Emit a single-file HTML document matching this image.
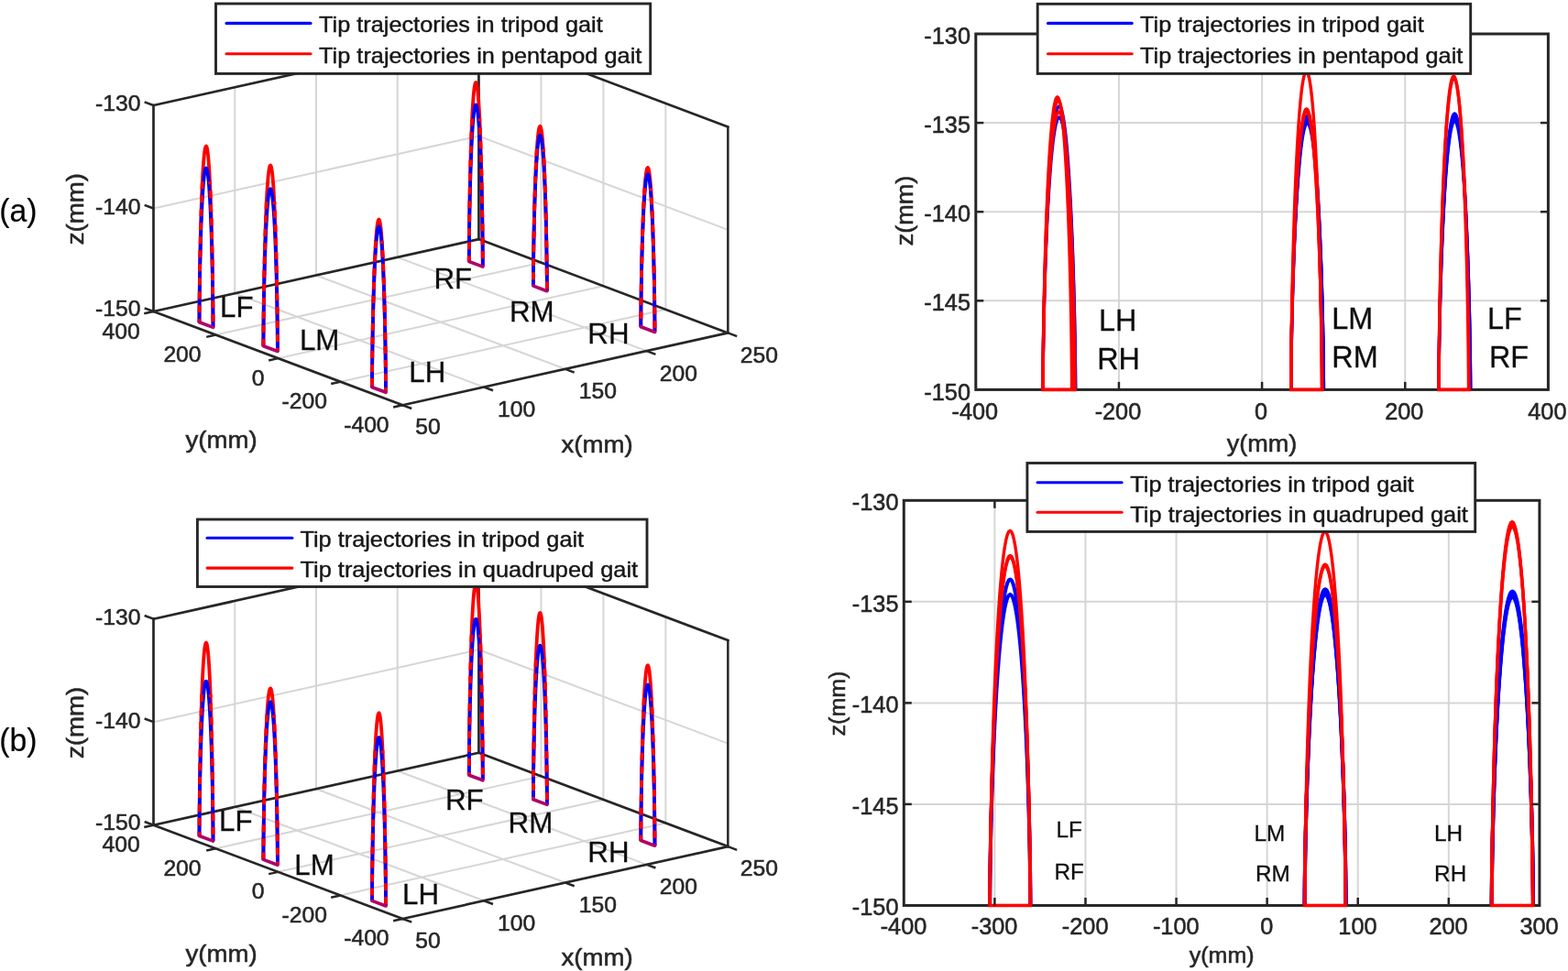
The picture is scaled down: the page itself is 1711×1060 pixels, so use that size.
<!DOCTYPE html>
<html lang="en">
<head>
<meta charset="utf-8">
<title>Tip trajectories in tripod, pentapod and quadruped gaits</title>
<style>
html, body { margin: 0; padding: 0; background: #ffffff; }
body { width: 1711px; height: 1060px; overflow: hidden; }
svg { display: block; font-family: "Liberation Sans", Arial, Helvetica, sans-serif; }
</style>
</head>
<body>
<svg width="1711" height="1060" viewBox="0 0 1711 1060">
<defs><filter id="soft" x="0" y="0" width="1711" height="1060" filterUnits="userSpaceOnUse"><feGaussianBlur stdDeviation="0.6"/></filter></defs>
<rect x="0" y="0" width="1711" height="1060" fill="#ffffff"/>
<g filter="url(#soft)">
<g id="plot3d-a">
<line x1="256.24" y1="320.27" x2="528.14" y2="422.57" stroke="#d6d6d6" stroke-width="2.0" />
<line x1="235.47" y1="365.57" x2="590.43" y2="286.67" stroke="#d6d6d6" stroke-width="2.0" />
<line x1="256.24" y1="320.27" x2="256.24" y2="95.27" stroke="#d6d6d6" stroke-width="2.0" />
<line x1="590.43" y1="286.67" x2="590.43" y2="61.67" stroke="#d6d6d6" stroke-width="2.0" />
<line x1="344.98" y1="300.55" x2="616.88" y2="402.85" stroke="#d6d6d6" stroke-width="2.0" />
<line x1="303.45" y1="391.15" x2="658.4" y2="312.25" stroke="#d6d6d6" stroke-width="2.0" />
<line x1="344.98" y1="300.55" x2="344.98" y2="75.55" stroke="#d6d6d6" stroke-width="2.0" />
<line x1="658.4" y1="312.25" x2="658.4" y2="87.25" stroke="#d6d6d6" stroke-width="2.0" />
<line x1="433.71" y1="280.82" x2="705.61" y2="383.12" stroke="#d6d6d6" stroke-width="2.0" />
<line x1="371.42" y1="416.73" x2="726.38" y2="337.82" stroke="#d6d6d6" stroke-width="2.0" />
<line x1="433.71" y1="280.82" x2="433.71" y2="55.82" stroke="#d6d6d6" stroke-width="2.0" />
<line x1="726.38" y1="337.82" x2="726.38" y2="112.82" stroke="#d6d6d6" stroke-width="2.0" />
<line x1="167.5" y1="227.5" x2="522.45" y2="148.6" stroke="#d6d6d6" stroke-width="2.0" />
<line x1="522.45" y1="148.6" x2="794.35" y2="250.9" stroke="#d6d6d6" stroke-width="2.0" />
<line x1="167.5" y1="340" x2="522.45" y2="261.1" stroke="#262626" stroke-width="2.7" stroke-linecap="round"/>
<line x1="522.45" y1="261.1" x2="794.35" y2="363.4" stroke="#262626" stroke-width="2.7" stroke-linecap="round"/>
<line x1="522.45" y1="261.1" x2="522.45" y2="36.1" stroke="#262626" stroke-width="2.7" stroke-linecap="round"/>
<line x1="167.5" y1="115" x2="522.45" y2="36.1" stroke="#262626" stroke-width="2.7" stroke-linecap="round"/>
<line x1="522.45" y1="36.1" x2="794.35" y2="138.4" stroke="#262626" stroke-width="2.7" stroke-linecap="round"/>
<line x1="794.35" y1="363.4" x2="794.35" y2="138.4" stroke="#262626" stroke-width="2.5" stroke-linecap="round"/>
<line x1="167.5" y1="340" x2="167.5" y2="115" stroke="#262626" stroke-width="2.7" stroke-linecap="round"/>
<line x1="167.5" y1="340" x2="439.4" y2="442.3" stroke="#262626" stroke-width="2.7" stroke-linecap="round"/>
<line x1="439.4" y1="442.3" x2="794.35" y2="363.4" stroke="#262626" stroke-width="2.7" stroke-linecap="round"/>
<line x1="167.5" y1="340" x2="157.25" y2="342.28" stroke="#262626" stroke-width="2.5" />
<line x1="439.4" y1="442.3" x2="449.23" y2="446" stroke="#262626" stroke-width="2.5" />
<line x1="235.47" y1="365.57" x2="225.23" y2="367.85" stroke="#262626" stroke-width="2.5" />
<line x1="528.14" y1="422.57" x2="537.96" y2="426.27" stroke="#262626" stroke-width="2.5" />
<line x1="303.45" y1="391.15" x2="293.2" y2="393.43" stroke="#262626" stroke-width="2.5" />
<line x1="616.88" y1="402.85" x2="626.7" y2="406.55" stroke="#262626" stroke-width="2.5" />
<line x1="371.42" y1="416.73" x2="361.18" y2="419" stroke="#262626" stroke-width="2.5" />
<line x1="705.61" y1="383.12" x2="715.44" y2="386.82" stroke="#262626" stroke-width="2.5" />
<line x1="439.4" y1="442.3" x2="429.15" y2="444.58" stroke="#262626" stroke-width="2.5" />
<line x1="794.35" y1="363.4" x2="804.18" y2="367.1" stroke="#262626" stroke-width="2.5" />
<line x1="167.5" y1="340" x2="157.67" y2="336.3" stroke="#262626" stroke-width="2.5" />
<line x1="167.5" y1="227.5" x2="157.67" y2="223.8" stroke="#262626" stroke-width="2.5" />
<line x1="167.5" y1="115" x2="157.67" y2="111.3" stroke="#262626" stroke-width="2.5" />
<text x="153.4" y="120.9" font-size="24.7" text-anchor="end" fill="#262626" stroke="#262626" stroke-width="0.55">-130</text>
<text x="153.4" y="233.9" font-size="24.7" text-anchor="end" fill="#262626" stroke="#262626" stroke-width="0.55">-140</text>
<text x="153.4" y="345.4" font-size="24.7" text-anchor="end" fill="#262626" stroke="#262626" stroke-width="0.55">-150</text>
<text x="152.8" y="369.5" font-size="24.7" text-anchor="end" fill="#262626" stroke="#262626" stroke-width="0.55">400</text>
<text x="199" y="394.9" font-size="24.7" text-anchor="middle" fill="#262626" stroke="#262626" stroke-width="0.55">200</text>
<text x="281.6" y="420.7" font-size="24.7" text-anchor="middle" fill="#262626" stroke="#262626" stroke-width="0.55">0</text>
<text x="332.3" y="446.1" font-size="24.7" text-anchor="middle" fill="#262626" stroke="#262626" stroke-width="0.55">-200</text>
<text x="399.9" y="471.6" font-size="24.7" text-anchor="middle" fill="#262626" stroke="#262626" stroke-width="0.55">-400</text>
<text x="467" y="474.4" font-size="24.7" text-anchor="middle" fill="#262626" stroke="#262626" stroke-width="0.55">50</text>
<text x="563.6" y="455" font-size="24.7" text-anchor="middle" fill="#262626" stroke="#262626" stroke-width="0.55">100</text>
<text x="652.4" y="435.4" font-size="24.7" text-anchor="middle" fill="#262626" stroke="#262626" stroke-width="0.55">150</text>
<text x="740.4" y="415.6" font-size="24.7" text-anchor="middle" fill="#262626" stroke="#262626" stroke-width="0.55">200</text>
<text x="828.4" y="395.5" font-size="24.7" text-anchor="middle" fill="#262626" stroke="#262626" stroke-width="0.55">250</text>
<text x="241.6" y="489" font-size="26.4" text-anchor="middle" fill="#262626" textLength="78.2" lengthAdjust="spacingAndGlyphs" stroke="#262626" stroke-width="0.55">y(mm)</text>
<text x="651.5" y="493.5" font-size="26.4" text-anchor="middle" fill="#262626" textLength="78.2" lengthAdjust="spacingAndGlyphs" stroke="#262626" stroke-width="0.55">x(mm)</text>
<text transform="translate(91.4,228.2) rotate(-90)" font-size="26.4" text-anchor="middle" fill="#262626" stroke="#262626" stroke-width="0.55" textLength="78.2" lengthAdjust="spacingAndGlyphs">z(mm)</text>
<path d="M217.5,351.8 L217.5,351.27 L217.5,349.67 L217.51,347.03 L217.53,343.38 L217.56,338.76 L217.6,333.22 L217.65,326.81 L217.73,319.62 L217.82,311.73 L217.93,303.21 L218.07,294.17 L218.23,284.7 L218.41,274.91 L218.63,264.91 L218.86,254.81 L219.13,244.72 L219.41,234.74 L219.73,225 L220.07,215.6 L220.43,206.64 L220.82,198.23 L221.23,190.45 L221.65,183.39 L222.1,177.14 L222.56,171.75 L223.03,167.29 L223.51,163.82 L224,161.36 L224.5,159.95 L225,159.6 L225.5,160.32 L226,162.1 L226.49,164.93 L226.97,168.77 L227.44,173.57 L227.9,179.3 L228.35,185.89 L228.77,193.27 L229.18,201.35 L229.57,210.06 L229.93,219.28 L230.27,228.94 L230.59,238.91 L230.87,249.1 L231.14,259.39 L231.37,269.67 L231.59,279.83 L231.77,289.76 L231.93,299.34 L232.07,308.49 L232.18,317.09 L232.27,325.06 L232.35,332.3 L232.4,338.74 L232.44,344.32 L232.47,348.96 L232.49,352.62 L232.5,355.27 L232.5,356.87 L232.5,357.4" fill="none" stroke="#ff0000" stroke-width="3.8" stroke-linejoin="round"/>
<path d="M217.5,351.8 L217.5,351.33 L217.5,349.93 L217.51,347.62 L217.53,344.41 L217.56,340.36 L217.6,335.5 L217.65,329.88 L217.73,323.58 L217.82,316.65 L217.93,309.19 L218.07,301.26 L218.23,292.96 L218.41,284.38 L218.63,275.61 L218.86,266.76 L219.13,257.91 L219.41,249.18 L219.73,240.65 L220.07,232.41 L220.43,224.57 L220.82,217.2 L221.23,210.4 L221.65,204.22 L222.1,198.75 L222.56,194.05 L223.03,190.16 L223.51,187.13 L224,185 L224.5,183.78 L225,183.5 L225.5,184.16 L226,185.74 L226.49,188.24 L226.97,191.63 L227.44,195.87 L227.9,200.92 L228.35,206.72 L228.77,213.21 L229.18,220.33 L229.57,227.98 L229.93,236.09 L230.27,244.58 L230.59,253.35 L230.87,262.3 L231.14,271.34 L231.37,280.37 L231.59,289.3 L231.77,298.01 L231.93,306.43 L232.07,314.46 L232.18,322.02 L232.27,329.01 L232.35,335.37 L232.4,341.03 L232.44,345.92 L232.47,349.99 L232.49,353.21 L232.5,355.53 L232.5,356.93 L232.5,357.4" fill="none" stroke="#0000ff" stroke-width="3.8" stroke-linejoin="round"/>
<path d="M220.82,198.23 L220.67,201.32 L220.53,204.49 L220.39,207.74 L220.25,211.06 L220.11,214.46 L219.98,217.91 L219.85,221.43 L219.73,225 L219.61,228.62 L219.49,232.28 L219.38,235.98 L219.27,239.71 L219.16,243.46 L219.06,247.23 L218.96,251.02 L218.86,254.81 L218.77,258.6 L218.68,262.39 L218.6,266.17 L218.52,269.93 L218.44,273.67 L218.37,277.38 L218.3,281.06 L218.23,284.7 L218.17,288.3 L218.11,291.84 L218.05,295.32 L218,298.75 L217.95,302.11 L217.9,305.39 L217.86,308.6 L217.82,311.73 L217.78,314.77 L217.75,317.71 L217.72,320.56 L217.69,323.31 L217.66,325.96 L217.64,328.49 L217.62,330.91 L217.6,333.22 L217.58,335.4 L217.57,337.46 L217.55,339.39 L217.54,341.19 L217.53,342.86 L217.52,344.39 L217.52,345.78 L217.51,347.03 L217.51,348.14 L217.51,349.11 L217.5,349.93 L217.5,350.6 L217.5,351.12 L217.5,351.5 L217.5,351.72 L217.5,351.8" fill="none" stroke="#ff0000" stroke-width="3.8" stroke-dasharray="8 7" stroke-dashoffset="0"/>
<path d="M229.03,198.24 L229.18,201.35 L229.33,204.55 L229.47,207.83 L229.61,211.18 L229.75,214.61 L229.89,218.11 L230.02,221.66 L230.15,225.27 L230.27,228.94 L230.39,232.65 L230.51,236.4 L230.62,240.18 L230.73,243.99 L230.84,247.82 L230.94,251.67 L231.04,255.53 L231.14,259.39 L231.23,263.25 L231.32,267.11 L231.4,270.95 L231.48,274.77 L231.56,278.57 L231.63,282.34 L231.7,286.07 L231.77,289.76 L231.83,293.4 L231.89,296.99 L231.95,300.51 L232,303.98 L232.05,307.37 L232.1,310.69 L232.14,313.93 L232.18,317.09 L232.22,320.16 L232.25,323.13 L232.28,326 L232.31,328.77 L232.34,331.44 L232.36,333.99 L232.38,336.43 L232.4,338.74 L232.42,340.94 L232.43,343.01 L232.45,344.95 L232.46,346.76 L232.47,348.43 L232.48,349.97 L232.48,351.37 L232.49,352.62 L232.49,353.74 L232.49,354.7 L232.5,355.53 L232.5,356.2 L232.5,356.72 L232.5,357.1 L232.5,357.32 L232.5,357.4" fill="none" stroke="#ff0000" stroke-width="3.8" stroke-dasharray="8 7" stroke-dashoffset="5"/>
<line x1="217.5" y1="351.8" x2="232.5" y2="357.4" stroke="#b0006a" stroke-width="3.6" stroke-linecap="round"/>
<path d="M287.4,377.7 L287.4,377.15 L287.4,375.52 L287.41,372.81 L287.43,369.06 L287.46,364.32 L287.5,358.63 L287.56,352.06 L287.63,344.68 L287.73,336.58 L287.85,327.84 L287.99,318.56 L288.15,308.85 L288.35,298.81 L288.56,288.54 L288.81,278.18 L289.08,267.82 L289.38,257.59 L289.7,247.59 L290.05,237.95 L290.43,228.76 L290.83,220.13 L291.25,212.14 L291.69,204.9 L292.15,198.49 L292.62,192.96 L293.11,188.39 L293.61,184.82 L294.12,182.3 L294.63,180.85 L295.15,180.5 L295.67,181.24 L296.18,183.07 L296.69,185.97 L297.19,189.91 L297.68,194.85 L298.15,200.73 L298.61,207.49 L299.05,215.06 L299.47,223.36 L299.87,232.29 L300.25,241.76 L300.6,251.67 L300.92,261.91 L301.22,272.36 L301.49,282.92 L301.74,293.47 L301.95,303.9 L302.15,314.09 L302.31,323.92 L302.45,333.31 L302.57,342.13 L302.67,350.31 L302.74,357.74 L302.8,364.35 L302.84,370.07 L302.87,374.84 L302.89,378.6 L302.9,381.31 L302.9,382.95 L302.9,383.5" fill="none" stroke="#ff0000" stroke-width="3.8" stroke-linejoin="round"/>
<path d="M287.4,377.7 L287.4,377.22 L287.4,375.79 L287.41,373.43 L287.43,370.17 L287.46,366.03 L287.5,361.07 L287.56,355.35 L287.63,348.92 L287.73,341.86 L287.85,334.24 L287.99,326.16 L288.15,317.69 L288.35,308.94 L288.56,300.01 L288.81,290.98 L289.08,281.96 L289.38,273.05 L289.7,264.35 L290.05,255.96 L290.43,247.96 L290.83,240.45 L291.25,233.51 L291.69,227.22 L292.15,221.64 L292.62,216.84 L293.11,212.88 L293.61,209.8 L294.12,207.62 L294.63,206.38 L295.15,206.1 L295.67,206.77 L296.18,208.39 L296.69,210.95 L297.19,214.41 L297.68,218.73 L298.15,223.89 L298.61,229.8 L299.05,236.43 L299.47,243.68 L299.87,251.49 L300.25,259.77 L300.6,268.43 L300.92,277.37 L301.22,286.5 L301.49,295.72 L301.74,304.93 L301.95,314.04 L302.15,322.93 L302.31,331.52 L302.45,339.71 L302.57,347.41 L302.67,354.54 L302.74,361.03 L302.8,366.8 L302.84,371.79 L302.87,375.95 L302.89,379.22 L302.9,381.59 L302.9,383.02 L302.9,383.5" fill="none" stroke="#0000ff" stroke-width="3.8" stroke-linejoin="round"/>
<path d="M290.83,220.13 L290.68,223.29 L290.53,226.54 L290.38,229.88 L290.24,233.29 L290.1,236.77 L289.96,240.32 L289.83,243.93 L289.7,247.59 L289.58,251.31 L289.46,255.06 L289.34,258.86 L289.23,262.68 L289.12,266.53 L289.01,270.4 L288.91,274.29 L288.81,278.18 L288.71,282.07 L288.62,285.96 L288.53,289.83 L288.45,293.69 L288.37,297.53 L288.3,301.34 L288.22,305.12 L288.15,308.85 L288.09,312.54 L288.03,316.17 L287.97,319.75 L287.91,323.26 L287.86,326.71 L287.82,330.08 L287.77,333.37 L287.73,336.58 L287.69,339.7 L287.66,342.72 L287.62,345.65 L287.59,348.47 L287.57,351.18 L287.54,353.78 L287.52,356.27 L287.5,358.63 L287.48,360.87 L287.47,362.98 L287.45,364.96 L287.44,366.81 L287.43,368.52 L287.42,370.09 L287.42,371.52 L287.41,372.81 L287.41,373.95 L287.41,374.94 L287.4,375.78 L287.4,376.47 L287.4,377.01 L287.4,377.39 L287.4,377.62 L287.4,377.7" fill="none" stroke="#ff0000" stroke-width="3.8" stroke-dasharray="8 7" stroke-dashoffset="0"/>
<path d="M299.32,220.17 L299.47,223.36 L299.62,226.64 L299.77,230 L299.92,233.45 L300.06,236.97 L300.2,240.55 L300.34,244.2 L300.47,247.91 L300.6,251.67 L300.72,255.48 L300.84,259.32 L300.96,263.21 L301.07,267.12 L301.18,271.05 L301.29,275 L301.39,278.96 L301.49,282.92 L301.59,286.89 L301.68,290.84 L301.77,294.79 L301.85,298.71 L301.93,302.61 L302,306.47 L302.08,310.3 L302.15,314.09 L302.21,317.82 L302.27,321.5 L302.33,325.12 L302.39,328.68 L302.44,332.16 L302.48,335.57 L302.53,338.9 L302.57,342.13 L302.61,345.28 L302.64,348.33 L302.68,351.28 L302.71,354.12 L302.73,356.86 L302.76,359.48 L302.78,361.98 L302.8,364.35 L302.82,366.61 L302.83,368.73 L302.85,370.72 L302.86,372.58 L302.87,374.3 L302.88,375.87 L302.88,377.31 L302.89,378.6 L302.89,379.74 L302.89,380.73 L302.9,381.58 L302.9,382.27 L302.9,382.81 L302.9,383.19 L302.9,383.42 L302.9,383.5" fill="none" stroke="#ff0000" stroke-width="3.8" stroke-dasharray="8 7" stroke-dashoffset="5"/>
<line x1="287.4" y1="377.7" x2="302.9" y2="383.5" stroke="#b0006a" stroke-width="3.6" stroke-linecap="round"/>
<path d="M406,422.7 L406,422.19 L406,420.67 L406.01,418.16 L406.03,414.67 L406.06,410.27 L406.1,404.98 L406.15,398.88 L406.23,392.03 L406.32,384.5 L406.43,376.39 L406.57,367.77 L406.73,358.75 L406.91,349.42 L407.13,339.89 L407.36,330.26 L407.63,320.64 L407.91,311.14 L408.23,301.86 L408.57,292.9 L408.93,284.37 L409.32,276.35 L409.73,268.95 L410.15,262.22 L410.6,256.27 L411.06,251.14 L411.53,246.9 L412.01,243.59 L412.5,241.26 L413,239.92 L413.5,239.6 L414,240.3 L414.5,242 L414.99,244.7 L415.47,248.37 L415.94,252.97 L416.4,258.44 L416.85,264.72 L417.27,271.76 L417.68,279.48 L418.07,287.78 L418.43,296.58 L418.77,305.79 L419.09,315.31 L419.37,325.03 L419.64,334.84 L419.87,344.65 L420.09,354.33 L420.27,363.8 L420.43,372.94 L420.57,381.66 L420.68,389.87 L420.77,397.46 L420.85,404.37 L420.9,410.51 L420.94,415.83 L420.97,420.25 L420.99,423.75 L421,426.27 L421,427.79 L421,428.3" fill="none" stroke="#ff0000" stroke-width="3.8" stroke-linejoin="round"/>
<path d="M406,422.7 L406,422.21 L406,420.75 L406.01,418.34 L406.03,415.01 L406.06,410.78 L406.1,405.72 L406.15,399.87 L406.23,393.3 L406.32,386.09 L406.43,378.31 L406.57,370.05 L406.73,361.41 L406.91,352.47 L407.13,343.33 L407.36,334.11 L407.63,324.89 L407.91,315.79 L408.23,306.9 L408.57,298.32 L408.93,290.14 L409.32,282.47 L409.73,275.37 L410.15,268.94 L410.6,263.23 L411.06,258.32 L411.53,254.27 L412.01,251.11 L412.5,248.88 L413,247.6 L413.5,247.3 L414,247.97 L414.5,249.62 L414.99,252.22 L415.47,255.74 L415.94,260.15 L416.4,265.4 L416.85,271.44 L417.27,278.19 L417.68,285.59 L418.07,293.56 L418.43,302 L418.77,310.83 L419.09,319.96 L419.37,329.28 L419.64,338.69 L419.87,348.09 L420.09,357.38 L420.27,366.46 L420.43,375.23 L420.57,383.59 L420.68,391.45 L420.77,398.74 L420.85,405.36 L420.9,411.25 L420.94,416.34 L420.97,420.59 L420.99,423.93 L421,426.35 L421,427.81 L421,428.3" fill="none" stroke="#0000ff" stroke-width="3.8" stroke-linejoin="round"/>
<path d="M410.1,263.02 L409.94,265.49 L409.78,268.07 L409.62,270.74 L409.47,273.5 L409.32,276.35 L409.17,279.29 L409.03,282.31 L408.89,285.41 L408.75,288.58 L408.61,291.81 L408.48,295.11 L408.35,298.46 L408.23,301.86 L408.11,305.31 L407.99,308.79 L407.88,312.32 L407.77,315.87 L407.66,319.44 L407.56,323.04 L407.46,326.65 L407.36,330.26 L407.27,333.87 L407.18,337.48 L407.1,341.09 L407.02,344.67 L406.94,348.23 L406.87,351.77 L406.8,355.28 L406.73,358.75 L406.67,362.17 L406.61,365.55 L406.55,368.87 L406.5,372.13 L406.45,375.33 L406.4,378.47 L406.36,381.52 L406.32,384.5 L406.28,387.4 L406.25,390.21 L406.22,392.93 L406.19,395.55 L406.16,398.07 L406.14,400.48 L406.12,402.79 L406.1,404.98 L406.08,407.06 L406.07,409.03 L406.05,410.87 L406.04,412.58 L406.03,414.17 L406.02,415.63 L406.02,416.96 L406.01,418.16 L406.01,419.21 L406.01,420.13 L406,420.92 L406,421.56 L406,422.06 L406,422.41 L406,422.63 L406,422.7" fill="none" stroke="#ff0000" stroke-width="3.8" stroke-dasharray="8 7" stroke-dashoffset="0"/>
<path d="M416.74,263.08 L416.9,265.56 L417.06,268.15 L417.22,270.84 L417.38,273.63 L417.53,276.51 L417.68,279.48 L417.83,282.53 L417.97,285.65 L418.11,288.86 L418.25,292.13 L418.39,295.46 L418.52,298.85 L418.65,302.3 L418.77,305.79 L418.89,309.33 L419.01,312.91 L419.12,316.52 L419.23,320.15 L419.34,323.8 L419.44,327.48 L419.54,331.16 L419.64,334.84 L419.73,338.52 L419.82,342.2 L419.9,345.87 L419.98,349.51 L420.06,353.13 L420.13,356.73 L420.2,360.28 L420.27,363.8 L420.33,367.27 L420.39,370.69 L420.45,374.06 L420.5,377.36 L420.55,380.6 L420.6,383.77 L420.64,386.86 L420.68,389.87 L420.72,392.79 L420.75,395.62 L420.78,398.36 L420.81,401.01 L420.84,403.55 L420.86,405.98 L420.88,408.3 L420.9,410.51 L420.92,412.61 L420.93,414.58 L420.95,416.43 L420.96,418.15 L420.97,419.75 L420.98,421.22 L420.98,422.55 L420.99,423.75 L420.99,424.81 L420.99,425.73 L421,426.51 L421,427.16 L421,427.66 L421,428.01 L421,428.23 L421,428.3" fill="none" stroke="#ff0000" stroke-width="3.8" stroke-dasharray="8 7" stroke-dashoffset="5"/>
<line x1="406" y1="422.7" x2="421" y2="428.3" stroke="#b0006a" stroke-width="3.6" stroke-linecap="round"/>
<path d="M511.8,285.5 L511.8,284.96 L511.8,283.33 L511.81,280.65 L511.83,276.94 L511.86,272.24 L511.9,266.6 L511.95,260.09 L512.03,252.78 L512.12,244.75 L512.23,236.09 L512.37,226.89 L512.53,217.26 L512.71,207.31 L512.93,197.13 L513.16,186.86 L513.43,176.59 L513.71,166.45 L514.03,156.54 L514.37,146.98 L514.73,137.87 L515.12,129.31 L515.53,121.4 L515.95,114.22 L516.4,107.85 L516.86,102.37 L517.33,97.84 L517.81,94.3 L518.3,91.79 L518.8,90.36 L519.3,90 L519.8,90.73 L520.3,92.54 L520.79,95.41 L521.27,99.31 L521.74,104.2 L522.2,110.02 L522.65,116.72 L523.07,124.21 L523.48,132.43 L523.87,141.28 L524.23,150.66 L524.57,160.48 L524.89,170.62 L525.17,180.98 L525.44,191.44 L525.67,201.89 L525.89,212.22 L526.07,222.32 L526.23,232.07 L526.37,241.36 L526.48,250.11 L526.57,258.21 L526.65,265.58 L526.7,272.13 L526.74,277.8 L526.77,282.52 L526.79,286.24 L526.8,288.93 L526.8,290.56 L526.8,291.1" fill="none" stroke="#ff0000" stroke-width="3.8" stroke-linejoin="round"/>
<path d="M511.8,285.5 L511.8,285.02 L511.8,283.6 L511.81,281.25 L511.83,277.99 L511.86,273.87 L511.9,268.93 L511.95,263.22 L512.03,256.82 L512.12,249.78 L512.23,242.19 L512.37,234.13 L512.53,225.69 L512.71,216.97 L512.93,208.06 L513.16,199.06 L513.43,190.07 L513.71,181.19 L514.03,172.51 L514.37,164.14 L514.73,156.17 L515.12,148.68 L515.53,141.76 L515.95,135.48 L516.4,129.92 L516.86,125.14 L517.33,121.18 L517.81,118.1 L518.3,115.93 L518.8,114.69 L519.3,114.4 L519.8,115.06 L520.3,116.67 L520.79,119.21 L521.27,122.65 L521.74,126.96 L522.2,132.09 L522.65,137.98 L523.07,144.58 L523.48,151.8 L523.87,159.58 L524.23,167.83 L524.57,176.45 L524.89,185.36 L525.17,194.45 L525.44,203.64 L525.67,212.82 L525.89,221.89 L526.07,230.75 L526.23,239.3 L526.37,247.46 L526.48,255.14 L526.57,262.25 L526.65,268.71 L526.7,274.46 L526.74,279.43 L526.77,283.57 L526.79,286.84 L526.8,289.2 L526.8,290.62 L526.8,291.1" fill="none" stroke="#0000ff" stroke-width="3.8" stroke-linejoin="round"/>
<path d="M515.12,129.31 L514.97,132.45 L514.83,135.67 L514.69,138.98 L514.55,142.36 L514.41,145.82 L514.28,149.33 L514.15,152.91 L514.03,156.54 L513.91,160.22 L513.79,163.95 L513.68,167.71 L513.57,171.5 L513.46,175.32 L513.36,179.15 L513.26,183 L513.16,186.86 L513.07,190.72 L512.98,194.57 L512.9,198.41 L512.82,202.24 L512.74,206.04 L512.67,209.82 L512.6,213.56 L512.53,217.26 L512.47,220.92 L512.41,224.52 L512.35,228.07 L512.3,231.55 L512.25,234.96 L512.2,238.31 L512.16,241.57 L512.12,244.75 L512.08,247.84 L512.05,250.84 L512.02,253.73 L511.99,256.53 L511.96,259.22 L511.94,261.8 L511.92,264.26 L511.9,266.6 L511.88,268.82 L511.87,270.91 L511.85,272.88 L511.84,274.71 L511.83,276.4 L511.82,277.96 L511.82,279.38 L511.81,280.65 L511.81,281.78 L511.81,282.76 L511.8,283.6 L511.8,284.28 L511.8,284.81 L511.8,285.19 L511.8,285.42 L511.8,285.5" fill="none" stroke="#ff0000" stroke-width="3.8" stroke-dasharray="8 7" stroke-dashoffset="0"/>
<path d="M523.33,129.27 L523.48,132.43 L523.63,135.68 L523.77,139.01 L523.91,142.43 L524.05,145.91 L524.19,149.46 L524.32,153.08 L524.45,156.75 L524.57,160.48 L524.69,164.25 L524.81,168.06 L524.92,171.91 L525.03,175.78 L525.14,179.68 L525.24,183.59 L525.34,187.51 L525.44,191.44 L525.53,195.37 L525.62,199.29 L525.7,203.19 L525.78,207.08 L525.86,210.94 L525.93,214.77 L526,218.57 L526.07,222.32 L526.13,226.02 L526.19,229.67 L526.25,233.25 L526.3,236.78 L526.35,240.23 L526.4,243.61 L526.44,246.9 L526.48,250.11 L526.52,253.23 L526.55,256.25 L526.58,259.17 L526.61,261.99 L526.64,264.7 L526.66,267.29 L526.68,269.77 L526.7,272.13 L526.72,274.36 L526.73,276.46 L526.75,278.44 L526.76,280.28 L526.77,281.98 L526.78,283.54 L526.78,284.97 L526.79,286.24 L526.79,287.37 L526.79,288.36 L526.8,289.19 L526.8,289.88 L526.8,290.41 L526.8,290.79 L526.8,291.02 L526.8,291.1" fill="none" stroke="#ff0000" stroke-width="3.8" stroke-dasharray="8 7" stroke-dashoffset="5"/>
<line x1="511.8" y1="285.5" x2="526.8" y2="291.1" stroke="#b0006a" stroke-width="3.6" stroke-linecap="round"/>
<path d="M581.9,312.1 L581.9,311.62 L581.9,310.17 L581.91,307.77 L581.93,304.46 L581.96,300.26 L582,295.22 L582.05,289.41 L582.13,282.89 L582.22,275.72 L582.33,267.99 L582.47,259.78 L582.63,251.19 L582.81,242.3 L583.03,233.23 L583.26,224.06 L583.53,214.9 L583.81,205.85 L584.13,197.02 L584.47,188.49 L584.83,180.37 L585.22,172.74 L585.63,165.69 L586.05,159.29 L586.5,153.63 L586.96,148.75 L587.43,144.72 L587.91,141.58 L588.4,139.36 L588.9,138.1 L589.4,137.8 L589.9,138.47 L590.4,140.11 L590.89,142.69 L591.37,146.19 L591.84,150.58 L592.3,155.8 L592.75,161.79 L593.17,168.51 L593.58,175.86 L593.97,183.78 L594.33,192.17 L594.67,200.95 L594.99,210.02 L595.27,219.29 L595.54,228.64 L595.77,237.99 L595.99,247.22 L596.17,256.24 L596.33,264.95 L596.47,273.26 L596.58,281.08 L596.67,288.32 L596.75,294.9 L596.8,300.75 L596.84,305.82 L596.87,310.03 L596.89,313.36 L596.9,315.76 L596.9,317.21 L596.9,317.7" fill="none" stroke="#ff0000" stroke-width="3.8" stroke-linejoin="round"/>
<path d="M581.9,312.1 L581.9,311.64 L581.9,310.28 L581.91,308.02 L581.93,304.89 L581.96,300.93 L582,296.18 L582.05,290.7 L582.13,284.54 L582.22,277.78 L582.33,270.49 L582.47,262.75 L582.63,254.64 L582.81,246.26 L583.03,237.7 L583.26,229.06 L583.53,220.42 L583.81,211.89 L584.13,203.56 L584.47,195.53 L584.83,187.87 L585.22,180.68 L585.63,174.04 L586.05,168.01 L586.5,162.67 L586.96,158.08 L587.43,154.29 L587.91,151.33 L588.4,149.25 L588.9,148.07 L589.4,147.8 L589.9,148.44 L590.4,150 L590.89,152.44 L591.37,155.76 L591.84,159.91 L592.3,164.84 L592.75,170.51 L593.17,176.85 L593.58,183.8 L593.97,191.28 L594.33,199.21 L594.67,207.5 L594.99,216.06 L595.27,224.81 L595.54,233.64 L595.77,242.46 L595.99,251.18 L596.17,259.7 L596.33,267.92 L596.47,275.76 L596.58,283.14 L596.67,289.97 L596.75,296.18 L596.8,301.71 L596.84,306.49 L596.87,310.47 L596.89,313.61 L596.9,315.87 L596.9,317.24 L596.9,317.7" fill="none" stroke="#0000ff" stroke-width="3.8" stroke-linejoin="round"/>
<path d="M585.84,162.41 L585.68,164.85 L585.52,167.39 L585.37,170.02 L585.22,172.74 L585.07,175.54 L584.93,178.41 L584.79,181.36 L584.65,184.38 L584.51,187.45 L584.38,190.59 L584.25,193.78 L584.13,197.02 L584.01,200.3 L583.89,203.62 L583.78,206.98 L583.67,210.36 L583.56,213.76 L583.46,217.18 L583.36,220.62 L583.26,224.06 L583.17,227.5 L583.08,230.94 L583,234.37 L582.92,237.78 L582.84,241.18 L582.77,244.54 L582.7,247.88 L582.63,251.19 L582.57,254.45 L582.51,257.66 L582.45,260.83 L582.4,263.94 L582.35,266.98 L582.3,269.97 L582.26,272.88 L582.22,275.72 L582.18,278.48 L582.15,281.15 L582.12,283.74 L582.09,286.23 L582.06,288.63 L582.04,290.94 L582.02,293.13 L582,295.22 L581.98,297.21 L581.97,299.08 L581.95,300.83 L581.94,302.46 L581.93,303.98 L581.92,305.37 L581.92,306.63 L581.91,307.77 L581.91,308.78 L581.91,309.66 L581.9,310.4 L581.9,311.01 L581.9,311.49 L581.9,311.83 L581.9,312.03 L581.9,312.1" fill="none" stroke="#ff0000" stroke-width="3.8" stroke-dasharray="8 7" stroke-dashoffset="0"/>
<path d="M592.8,162.6 L592.96,165.07 L593.12,167.63 L593.28,170.29 L593.43,173.03 L593.58,175.86 L593.73,178.77 L593.87,181.75 L594.01,184.81 L594.15,187.92 L594.29,191.1 L594.42,194.34 L594.55,197.62 L594.67,200.95 L594.79,204.33 L594.91,207.74 L595.02,211.17 L595.13,214.64 L595.24,218.12 L595.34,221.62 L595.44,225.13 L595.54,228.64 L595.63,232.15 L595.72,235.66 L595.8,239.15 L595.88,242.62 L595.96,246.07 L596.03,249.5 L596.1,252.89 L596.17,256.24 L596.23,259.55 L596.29,262.81 L596.35,266.02 L596.4,269.16 L596.45,272.25 L596.5,275.27 L596.54,278.21 L596.58,281.08 L596.62,283.87 L596.65,286.57 L596.68,289.18 L596.71,291.69 L596.74,294.11 L596.76,296.43 L596.78,298.65 L596.8,300.75 L596.82,302.75 L596.83,304.63 L596.85,306.39 L596.86,308.03 L596.87,309.55 L596.88,310.95 L596.88,312.22 L596.89,313.36 L596.89,314.37 L596.89,315.25 L596.9,316 L596.9,316.61 L596.9,317.09 L596.9,317.43 L596.9,317.63 L596.9,317.7" fill="none" stroke="#ff0000" stroke-width="3.8" stroke-dasharray="8 7" stroke-dashoffset="5"/>
<line x1="581.9" y1="312.1" x2="596.9" y2="317.7" stroke="#b0006a" stroke-width="3.6" stroke-linecap="round"/>
<path d="M699.3,356.8 L699.3,356.32 L699.3,354.87 L699.31,352.48 L699.33,349.17 L699.36,344.99 L699.4,339.97 L699.45,334.17 L699.53,327.66 L699.62,320.51 L699.74,312.8 L699.88,304.62 L700.04,296.05 L700.23,287.19 L700.44,278.14 L700.68,268.99 L700.95,259.86 L701.24,250.84 L701.56,242.03 L701.9,233.53 L702.27,225.43 L702.66,217.82 L703.08,210.79 L703.51,204.41 L703.96,198.77 L704.42,193.9 L704.9,189.89 L705.39,186.76 L705.89,184.55 L706.39,183.29 L706.9,183 L707.41,183.67 L707.91,185.31 L708.41,187.89 L708.9,191.39 L709.38,195.76 L709.84,200.97 L710.29,206.96 L710.72,213.66 L711.14,221 L711.53,228.9 L711.9,237.27 L712.24,246.03 L712.56,255.08 L712.85,264.32 L713.12,273.66 L713.36,282.98 L713.57,292.19 L713.76,301.19 L713.92,309.88 L714.06,318.17 L714.18,325.97 L714.27,333.19 L714.35,339.76 L714.4,345.59 L714.44,350.65 L714.47,354.85 L714.49,358.17 L714.5,360.57 L714.5,362.02 L714.5,362.5" fill="none" stroke="#ff0000" stroke-width="3.8" stroke-linejoin="round"/>
<path d="M699.3,356.8 L699.3,356.34 L699.3,354.95 L699.31,352.66 L699.33,349.49 L699.36,345.48 L699.4,340.67 L699.45,335.11 L699.53,328.87 L699.62,322.02 L699.74,314.63 L699.88,306.78 L700.04,298.57 L700.23,290.08 L700.44,281.4 L700.68,272.64 L700.95,263.89 L701.24,255.25 L701.56,246.81 L701.9,238.66 L702.27,230.9 L702.66,223.62 L703.08,216.88 L703.51,210.78 L703.96,205.37 L704.42,200.72 L704.9,196.87 L705.39,193.88 L705.89,191.77 L706.39,190.57 L706.9,190.3 L707.41,190.95 L707.91,192.53 L708.41,195.01 L708.9,198.37 L709.38,202.57 L709.84,207.57 L710.29,213.32 L710.72,219.75 L711.14,226.79 L711.53,234.37 L711.9,242.41 L712.24,250.81 L712.56,259.49 L712.85,268.36 L713.12,277.31 L713.36,286.25 L713.57,295.08 L713.76,303.71 L713.92,312.05 L714.06,320 L714.18,327.47 L714.27,334.4 L714.35,340.69 L714.4,346.29 L714.44,351.13 L714.47,355.17 L714.49,358.35 L714.5,360.65 L714.5,362.04 L714.5,362.5" fill="none" stroke="#0000ff" stroke-width="3.8" stroke-linejoin="round"/>
<path d="M703.45,205.17 L703.29,207.52 L703.13,209.96 L702.97,212.49 L702.82,215.11 L702.66,217.82 L702.51,220.61 L702.37,223.48 L702.22,226.41 L702.08,229.42 L701.95,232.49 L701.81,235.62 L701.69,238.8 L701.56,242.03 L701.44,245.3 L701.32,248.61 L701.2,251.96 L701.09,255.33 L700.98,258.72 L700.88,262.14 L700.78,265.56 L700.68,268.99 L700.59,272.43 L700.5,275.85 L700.41,279.27 L700.33,282.68 L700.25,286.06 L700.18,289.42 L700.11,292.75 L700.04,296.05 L699.98,299.3 L699.91,302.51 L699.86,305.66 L699.8,308.76 L699.75,311.8 L699.71,314.78 L699.66,317.68 L699.62,320.51 L699.59,323.26 L699.55,325.93 L699.52,328.51 L699.49,331 L699.46,333.4 L699.44,335.69 L699.42,337.88 L699.4,339.97 L699.38,341.94 L699.37,343.81 L699.35,345.56 L699.34,347.19 L699.33,348.7 L699.32,350.09 L699.32,351.35 L699.31,352.48 L699.31,353.49 L699.31,354.36 L699.3,355.1 L699.3,355.71 L699.3,356.19 L699.3,356.53 L699.3,356.73 L699.3,356.8" fill="none" stroke="#ff0000" stroke-width="3.8" stroke-dasharray="8 7" stroke-dashoffset="0"/>
<path d="M710.18,205.39 L710.35,207.76 L710.51,210.22 L710.67,212.78 L710.83,215.44 L710.98,218.18 L711.14,221 L711.29,223.9 L711.43,226.88 L711.58,229.92 L711.72,233.03 L711.85,236.2 L711.99,239.43 L712.11,242.71 L712.24,246.03 L712.36,249.4 L712.48,252.8 L712.6,256.23 L712.71,259.69 L712.82,263.16 L712.92,266.65 L713.02,270.15 L713.12,273.66 L713.21,277.16 L713.3,280.66 L713.39,284.14 L713.47,287.61 L713.55,291.05 L713.62,294.46 L713.69,297.85 L713.76,301.19 L713.82,304.49 L713.89,307.74 L713.94,310.94 L714,314.08 L714.05,317.16 L714.09,320.17 L714.14,323.11 L714.18,325.97 L714.21,328.75 L714.25,331.44 L714.28,334.05 L714.31,336.56 L714.34,338.97 L714.36,341.29 L714.38,343.49 L714.4,345.59 L714.42,347.58 L714.43,349.46 L714.45,351.22 L714.46,352.86 L714.47,354.37 L714.48,355.77 L714.48,357.03 L714.49,358.17 L714.49,359.18 L714.49,360.06 L714.5,360.8 L714.5,361.41 L714.5,361.89 L714.5,362.23 L714.5,362.43 L714.5,362.5" fill="none" stroke="#ff0000" stroke-width="3.8" stroke-dasharray="8 7" stroke-dashoffset="5"/>
<line x1="699.3" y1="356.8" x2="714.5" y2="362.5" stroke="#b0006a" stroke-width="3.6" stroke-linecap="round"/>
<text x="240" y="346.2" font-size="31.3" text-anchor="start" fill="#111111" stroke="#111111" stroke-width="0.3">LF</text>
<text x="326.9" y="382.2" font-size="31.3" text-anchor="start" fill="#111111" stroke="#111111" stroke-width="0.3">LM</text>
<text x="446.3" y="417.3" font-size="31.3" text-anchor="start" fill="#111111" stroke="#111111" stroke-width="0.3">LH</text>
<text x="473.4" y="314.8" font-size="31.3" text-anchor="start" fill="#111111" stroke="#111111" stroke-width="0.3">RF</text>
<text x="555.9" y="350.7" font-size="31.3" text-anchor="start" fill="#111111" stroke="#111111" stroke-width="0.3">RM</text>
<text x="641.3" y="375.4" font-size="31.3" text-anchor="start" fill="#111111" stroke="#111111" stroke-width="0.3">RH</text>
<rect x="235.5" y="4" width="474.2" height="76.4" fill="#ffffff" stroke="#262626" stroke-width="2.9"/>
<line x1="247" y1="25.4" x2="339" y2="25.4" stroke="#0000ff" stroke-width="3.1" stroke-linecap="round"/>
<line x1="247" y1="58.8" x2="339" y2="58.8" stroke="#ff0000" stroke-width="3.1" stroke-linecap="round"/>
<text x="348.1" y="34.7" font-size="23.6" text-anchor="start" fill="#141414" textLength="309.6" lengthAdjust="spacingAndGlyphs" stroke="#141414" stroke-width="0.4">Tip trajectories in tripod gait</text>
<text x="348.1" y="69.4" font-size="23.6" text-anchor="start" fill="#141414" textLength="352.2" lengthAdjust="spacingAndGlyphs" stroke="#141414" stroke-width="0.4">Tip trajectories in pentapod gait</text>
<text x="-0.8" y="242.3" font-size="34.4" text-anchor="start" fill="#000000" textLength="41.2" lengthAdjust="spacingAndGlyphs" stroke="#000000" stroke-width="0.2">(a)</text>
</g>
<g id="plot3d-b">
<line x1="256.24" y1="880.98" x2="528.14" y2="983.27" stroke="#d6d6d6" stroke-width="2.0" />
<line x1="235.47" y1="926.28" x2="590.43" y2="847.38" stroke="#d6d6d6" stroke-width="2.0" />
<line x1="256.24" y1="880.98" x2="256.24" y2="655.98" stroke="#d6d6d6" stroke-width="2.0" />
<line x1="590.43" y1="847.38" x2="590.43" y2="622.38" stroke="#d6d6d6" stroke-width="2.0" />
<line x1="344.98" y1="861.25" x2="616.88" y2="963.55" stroke="#d6d6d6" stroke-width="2.0" />
<line x1="303.45" y1="951.85" x2="658.4" y2="872.95" stroke="#d6d6d6" stroke-width="2.0" />
<line x1="344.98" y1="861.25" x2="344.98" y2="636.25" stroke="#d6d6d6" stroke-width="2.0" />
<line x1="658.4" y1="872.95" x2="658.4" y2="647.95" stroke="#d6d6d6" stroke-width="2.0" />
<line x1="433.71" y1="841.53" x2="705.61" y2="943.83" stroke="#d6d6d6" stroke-width="2.0" />
<line x1="371.42" y1="977.42" x2="726.38" y2="898.53" stroke="#d6d6d6" stroke-width="2.0" />
<line x1="433.71" y1="841.53" x2="433.71" y2="616.53" stroke="#d6d6d6" stroke-width="2.0" />
<line x1="726.38" y1="898.53" x2="726.38" y2="673.53" stroke="#d6d6d6" stroke-width="2.0" />
<line x1="167.5" y1="788.2" x2="522.45" y2="709.3" stroke="#d6d6d6" stroke-width="2.0" />
<line x1="522.45" y1="709.3" x2="794.35" y2="811.6" stroke="#d6d6d6" stroke-width="2.0" />
<line x1="167.5" y1="900.7" x2="522.45" y2="821.8" stroke="#262626" stroke-width="2.7" stroke-linecap="round"/>
<line x1="522.45" y1="821.8" x2="794.35" y2="924.1" stroke="#262626" stroke-width="2.7" stroke-linecap="round"/>
<line x1="522.45" y1="821.8" x2="522.45" y2="596.8" stroke="#262626" stroke-width="2.7" stroke-linecap="round"/>
<line x1="167.5" y1="675.7" x2="522.45" y2="596.8" stroke="#262626" stroke-width="2.7" stroke-linecap="round"/>
<line x1="522.45" y1="596.8" x2="794.35" y2="699.1" stroke="#262626" stroke-width="2.7" stroke-linecap="round"/>
<line x1="794.35" y1="924.1" x2="794.35" y2="699.1" stroke="#262626" stroke-width="2.5" stroke-linecap="round"/>
<line x1="167.5" y1="900.7" x2="167.5" y2="675.7" stroke="#262626" stroke-width="2.7" stroke-linecap="round"/>
<line x1="167.5" y1="900.7" x2="439.4" y2="1003" stroke="#262626" stroke-width="2.7" stroke-linecap="round"/>
<line x1="439.4" y1="1003" x2="794.35" y2="924.1" stroke="#262626" stroke-width="2.7" stroke-linecap="round"/>
<line x1="167.5" y1="900.7" x2="157.25" y2="902.98" stroke="#262626" stroke-width="2.5" />
<line x1="439.4" y1="1003" x2="449.23" y2="1006.7" stroke="#262626" stroke-width="2.5" />
<line x1="235.47" y1="926.28" x2="225.23" y2="928.55" stroke="#262626" stroke-width="2.5" />
<line x1="528.14" y1="983.27" x2="537.96" y2="986.97" stroke="#262626" stroke-width="2.5" />
<line x1="303.45" y1="951.85" x2="293.2" y2="954.13" stroke="#262626" stroke-width="2.5" />
<line x1="616.88" y1="963.55" x2="626.7" y2="967.25" stroke="#262626" stroke-width="2.5" />
<line x1="371.42" y1="977.42" x2="361.18" y2="979.7" stroke="#262626" stroke-width="2.5" />
<line x1="705.61" y1="943.83" x2="715.44" y2="947.52" stroke="#262626" stroke-width="2.5" />
<line x1="439.4" y1="1003" x2="429.15" y2="1005.28" stroke="#262626" stroke-width="2.5" />
<line x1="794.35" y1="924.1" x2="804.18" y2="927.8" stroke="#262626" stroke-width="2.5" />
<line x1="167.5" y1="900.7" x2="157.67" y2="897" stroke="#262626" stroke-width="2.5" />
<line x1="167.5" y1="788.2" x2="157.67" y2="784.5" stroke="#262626" stroke-width="2.5" />
<line x1="167.5" y1="675.7" x2="157.67" y2="672" stroke="#262626" stroke-width="2.5" />
<text x="153.4" y="681.6" font-size="24.7" text-anchor="end" fill="#262626" stroke="#262626" stroke-width="0.55">-130</text>
<text x="153.4" y="794.6" font-size="24.7" text-anchor="end" fill="#262626" stroke="#262626" stroke-width="0.55">-140</text>
<text x="153.4" y="906.1" font-size="24.7" text-anchor="end" fill="#262626" stroke="#262626" stroke-width="0.55">-150</text>
<text x="152.8" y="930.2" font-size="24.7" text-anchor="end" fill="#262626" stroke="#262626" stroke-width="0.55">400</text>
<text x="199" y="955.6" font-size="24.7" text-anchor="middle" fill="#262626" stroke="#262626" stroke-width="0.55">200</text>
<text x="281.6" y="981.4" font-size="24.7" text-anchor="middle" fill="#262626" stroke="#262626" stroke-width="0.55">0</text>
<text x="332.3" y="1006.8" font-size="24.7" text-anchor="middle" fill="#262626" stroke="#262626" stroke-width="0.55">-200</text>
<text x="399.9" y="1032.3" font-size="24.7" text-anchor="middle" fill="#262626" stroke="#262626" stroke-width="0.55">-400</text>
<text x="467" y="1035.1" font-size="24.7" text-anchor="middle" fill="#262626" stroke="#262626" stroke-width="0.55">50</text>
<text x="563.6" y="1015.7" font-size="24.7" text-anchor="middle" fill="#262626" stroke="#262626" stroke-width="0.55">100</text>
<text x="652.4" y="996.1" font-size="24.7" text-anchor="middle" fill="#262626" stroke="#262626" stroke-width="0.55">150</text>
<text x="740.4" y="976.3" font-size="24.7" text-anchor="middle" fill="#262626" stroke="#262626" stroke-width="0.55">200</text>
<text x="828.4" y="956.2" font-size="24.7" text-anchor="middle" fill="#262626" stroke="#262626" stroke-width="0.55">250</text>
<text x="241.6" y="1049.7" font-size="26.4" text-anchor="middle" fill="#262626" textLength="78.2" lengthAdjust="spacingAndGlyphs" stroke="#262626" stroke-width="0.55">y(mm)</text>
<text x="651.5" y="1054.2" font-size="26.4" text-anchor="middle" fill="#262626" textLength="78.2" lengthAdjust="spacingAndGlyphs" stroke="#262626" stroke-width="0.55">x(mm)</text>
<text transform="translate(91.4,788.9) rotate(-90)" font-size="26.4" text-anchor="middle" fill="#262626" stroke="#262626" stroke-width="0.55" textLength="78.2" lengthAdjust="spacingAndGlyphs">z(mm)</text>
<path d="M217.5,912.5 L217.5,911.91 L217.5,910.17 L217.51,907.27 L217.53,903.27 L217.56,898.21 L217.6,892.13 L217.65,885.11 L217.73,877.23 L217.82,868.57 L217.93,859.24 L218.07,849.32 L218.23,838.94 L218.41,828.21 L218.63,817.24 L218.86,806.16 L219.13,795.09 L219.41,784.15 L219.73,773.46 L220.07,763.15 L220.43,753.32 L220.82,744.08 L221.23,735.54 L221.65,727.8 L222.1,720.92 L222.56,715 L223.03,710.1 L223.51,706.27 L224,703.56 L224.5,702 L225,701.6 L225.5,702.37 L226,704.31 L226.49,707.39 L226.97,711.57 L227.44,716.83 L227.9,723.09 L228.35,730.29 L228.77,738.36 L229.18,747.21 L229.57,756.73 L229.93,766.83 L230.27,777.4 L230.59,788.32 L230.87,799.47 L231.14,810.74 L231.37,822 L231.59,833.12 L231.77,844 L231.93,854.5 L232.07,864.51 L232.18,873.94 L232.27,882.66 L232.35,890.6 L232.4,897.66 L232.44,903.76 L232.47,908.85 L232.49,912.87 L232.5,915.76 L232.5,917.51 L232.5,918.1" fill="none" stroke="#ff0000" stroke-width="3.8" stroke-linejoin="round"/>
<path d="M217.5,912.5 L217.5,912.03 L217.5,910.63 L217.51,908.3 L217.53,905.09 L217.56,901.02 L217.6,896.14 L217.65,890.51 L217.73,884.18 L217.82,877.23 L217.93,869.74 L218.07,861.78 L218.23,853.45 L218.41,844.84 L218.63,836.04 L218.86,827.16 L219.13,818.28 L219.41,809.52 L219.73,800.95 L220.07,792.69 L220.43,784.82 L220.82,777.43 L221.23,770.6 L221.65,764.4 L222.1,758.91 L222.56,754.19 L223.03,750.29 L223.51,747.25 L224,745.1 L224.5,743.88 L225,743.6 L225.5,744.26 L226,745.85 L226.49,748.36 L226.97,751.76 L227.44,756.01 L227.9,761.08 L228.35,766.9 L228.77,773.41 L229.18,780.55 L229.57,788.23 L229.93,796.37 L230.27,804.89 L230.59,813.69 L230.87,822.67 L231.14,831.74 L231.37,840.8 L231.59,849.76 L231.77,858.51 L231.93,866.96 L232.07,875.01 L232.18,882.59 L232.27,889.61 L232.35,895.99 L232.4,901.67 L232.44,906.58 L232.47,910.67 L232.49,913.89 L232.5,916.22 L232.5,917.63 L232.5,918.1" fill="none" stroke="#0000ff" stroke-width="3.8" stroke-linejoin="round"/>
<path d="M220.25,758.17 L220.11,761.89 L219.98,765.69 L219.85,769.55 L219.73,773.46 L219.61,777.43 L219.49,781.45 L219.38,785.51 L219.27,789.59 L219.16,793.71 L219.06,797.85 L218.96,802 L218.86,806.16 L218.77,810.32 L218.68,814.47 L218.6,818.62 L218.52,822.74 L218.44,826.85 L218.37,830.92 L218.3,834.95 L218.23,838.94 L218.17,842.88 L218.11,846.77 L218.05,850.59 L218,854.34 L217.95,858.03 L217.9,861.63 L217.86,865.15 L217.82,868.57 L217.78,871.91 L217.75,875.14 L217.72,878.26 L217.69,881.27 L217.66,884.17 L217.64,886.95 L217.62,889.6 L217.6,892.13 L217.58,894.52 L217.57,896.78 L217.55,898.9 L217.54,900.87 L217.53,902.7 L217.52,904.38 L217.52,905.9 L217.51,907.27 L217.51,908.49 L217.51,909.55 L217.5,910.45 L217.5,911.19 L217.5,911.76 L217.5,912.17 L217.5,912.42 L217.5,912.5" fill="none" stroke="#ff0000" stroke-width="3.8" stroke-dasharray="8 7" stroke-dashoffset="0"/>
<path d="M229.61,757.96 L229.75,761.72 L229.89,765.54 L230.02,769.43 L230.15,773.39 L230.27,777.4 L230.39,781.46 L230.51,785.56 L230.62,789.7 L230.73,793.88 L230.84,798.07 L230.94,802.29 L231.04,806.51 L231.14,810.74 L231.23,814.97 L231.32,819.19 L231.4,823.4 L231.48,827.59 L231.56,831.74 L231.63,835.87 L231.7,839.96 L231.77,844 L231.83,847.98 L231.89,851.91 L231.95,855.78 L232,859.57 L232.05,863.29 L232.1,866.93 L232.14,870.48 L232.18,873.94 L232.22,877.3 L232.25,880.55 L232.28,883.7 L232.31,886.73 L232.34,889.65 L232.36,892.45 L232.38,895.12 L232.4,897.66 L232.42,900.06 L232.43,902.33 L232.45,904.46 L232.46,906.44 L232.47,908.27 L232.48,909.96 L232.48,911.49 L232.49,912.87 L232.49,914.09 L232.49,915.15 L232.5,916.05 L232.5,916.78 L232.5,917.36 L232.5,917.77 L232.5,918.02 L232.5,918.1" fill="none" stroke="#ff0000" stroke-width="3.8" stroke-dasharray="8 7" stroke-dashoffset="5"/>
<line x1="217.5" y1="912.5" x2="232.5" y2="918.1" stroke="#b0006a" stroke-width="3.6" stroke-linecap="round"/>
<path d="M287.4,938.4 L287.4,937.88 L287.4,936.33 L287.41,933.76 L287.43,930.2 L287.46,925.7 L287.5,920.3 L287.56,914.07 L287.63,907.07 L287.73,899.38 L287.85,891.09 L287.99,882.29 L288.15,873.07 L288.35,863.54 L288.56,853.81 L288.81,843.98 L289.08,834.15 L289.38,824.45 L289.7,814.97 L290.05,805.82 L290.43,797.11 L290.83,788.92 L291.25,781.36 L291.69,774.49 L292.15,768.41 L292.62,763.18 L293.11,758.85 L293.61,755.47 L294.12,753.09 L294.63,751.73 L295.15,751.4 L295.67,752.11 L296.18,753.86 L296.69,756.62 L297.19,760.37 L297.68,765.07 L298.15,770.66 L298.61,777.08 L299.05,784.28 L299.47,792.16 L299.87,800.64 L300.25,809.64 L300.6,819.05 L300.92,828.77 L301.22,838.7 L301.49,848.72 L301.74,858.74 L301.95,868.64 L302.15,878.31 L302.31,887.65 L302.45,896.56 L302.57,904.94 L302.67,912.7 L302.74,919.75 L302.8,926.03 L302.84,931.46 L302.87,935.98 L302.89,939.55 L302.9,942.12 L302.9,943.68 L302.9,944.2" fill="none" stroke="#ff0000" stroke-width="3.8" stroke-linejoin="round"/>
<path d="M287.4,938.4 L287.4,937.92 L287.4,936.49 L287.41,934.12 L287.43,930.85 L287.46,926.7 L287.5,921.73 L287.56,915.98 L287.63,909.54 L287.73,902.45 L287.85,894.82 L287.99,886.71 L288.15,878.22 L288.35,869.45 L288.56,860.48 L288.81,851.43 L289.08,842.38 L289.38,833.45 L289.7,824.72 L290.05,816.3 L290.43,808.28 L290.83,800.75 L291.25,793.79 L291.69,787.48 L292.15,781.89 L292.62,777.08 L293.11,773.1 L293.61,770.01 L294.12,767.83 L294.63,766.59 L295.15,766.3 L295.67,766.97 L296.18,768.6 L296.69,771.16 L297.19,774.63 L297.68,778.97 L298.15,784.13 L298.61,790.07 L299.05,796.71 L299.47,803.99 L299.87,811.82 L300.25,820.12 L300.6,828.8 L300.92,837.77 L301.22,846.93 L301.49,856.17 L301.74,865.41 L301.95,874.54 L302.15,883.46 L302.31,892.07 L302.45,900.28 L302.57,908.01 L302.67,915.16 L302.74,921.67 L302.8,927.45 L302.84,932.46 L302.87,936.62 L302.89,939.91 L302.9,942.29 L302.9,943.72 L302.9,944.2" fill="none" stroke="#0000ff" stroke-width="3.8" stroke-linejoin="round"/>
<path d="M291.3,780.46 L291.14,783.19 L290.98,786.01 L290.83,788.92 L290.68,791.92 L290.53,795.01 L290.38,798.17 L290.24,801.41 L290.1,804.71 L289.96,808.07 L289.83,811.5 L289.7,814.97 L289.58,818.49 L289.46,822.05 L289.34,825.65 L289.23,829.28 L289.12,832.93 L289.01,836.6 L288.91,840.29 L288.81,843.98 L288.71,847.67 L288.62,851.36 L288.53,855.03 L288.45,858.7 L288.37,862.34 L288.3,865.95 L288.22,869.53 L288.15,873.07 L288.09,876.57 L288.03,880.02 L287.97,883.41 L287.91,886.75 L287.86,890.02 L287.82,893.22 L287.77,896.34 L287.73,899.38 L287.69,902.34 L287.66,905.21 L287.62,907.99 L287.59,910.66 L287.57,913.24 L287.54,915.7 L287.52,918.06 L287.5,920.3 L287.48,922.43 L287.47,924.43 L287.45,926.31 L287.44,928.07 L287.43,929.69 L287.42,931.18 L287.42,932.54 L287.41,933.76 L287.41,934.84 L287.41,935.78 L287.4,936.58 L287.4,937.23 L287.4,937.74 L287.4,938.11 L287.4,938.33 L287.4,938.4" fill="none" stroke="#ff0000" stroke-width="3.8" stroke-dasharray="8 7" stroke-dashoffset="0"/>
<path d="M298.83,780.59 L299,783.34 L299.16,786.18 L299.32,789.13 L299.47,792.16 L299.62,795.27 L299.77,798.47 L299.92,801.74 L300.06,805.08 L300.2,808.49 L300.34,811.95 L300.47,815.48 L300.6,819.05 L300.72,822.66 L300.84,826.31 L300.96,830 L301.07,833.71 L301.18,837.45 L301.29,841.2 L301.39,844.96 L301.49,848.72 L301.59,852.49 L301.68,856.24 L301.77,859.99 L301.85,863.71 L301.93,867.41 L302,871.08 L302.08,874.72 L302.15,878.31 L302.21,881.86 L302.27,885.35 L302.33,888.79 L302.39,892.16 L302.44,895.47 L302.48,898.71 L302.53,901.86 L302.57,904.94 L302.61,907.92 L302.64,910.82 L302.68,913.62 L302.71,916.32 L302.73,918.91 L302.76,921.4 L302.78,923.77 L302.8,926.03 L302.82,928.17 L302.83,930.18 L302.85,932.07 L302.86,933.84 L302.87,935.47 L302.88,936.96 L302.88,938.32 L302.89,939.55 L302.89,940.63 L302.89,941.57 L302.9,942.37 L302.9,943.03 L302.9,943.54 L302.9,943.91 L302.9,944.13 L302.9,944.2" fill="none" stroke="#ff0000" stroke-width="3.8" stroke-dasharray="8 7" stroke-dashoffset="5"/>
<line x1="287.4" y1="938.4" x2="302.9" y2="944.2" stroke="#b0006a" stroke-width="3.6" stroke-linecap="round"/>
<path d="M406,983.4 L406,982.83 L406,981.13 L406.01,978.32 L406.03,974.42 L406.06,969.49 L406.1,963.58 L406.15,956.76 L406.23,949.09 L406.32,940.67 L406.43,931.59 L406.57,921.94 L406.73,911.84 L406.91,901.4 L407.13,890.74 L407.36,879.96 L407.63,869.19 L407.91,858.55 L408.23,848.16 L408.57,838.13 L408.93,828.57 L409.32,819.59 L409.73,811.28 L410.15,803.75 L410.6,797.07 L411.06,791.31 L411.53,786.55 L412.01,782.83 L412.5,780.2 L413,778.68 L413.5,778.3 L414,779.06 L414.5,780.94 L414.99,783.94 L415.47,788.02 L415.94,793.14 L416.4,799.24 L416.85,806.25 L417.27,814.1 L417.68,822.71 L418.07,831.98 L418.43,841.81 L418.77,852.1 L419.09,862.72 L419.37,873.58 L419.64,884.54 L419.87,895.5 L420.09,906.32 L420.27,916.9 L420.43,927.12 L420.57,936.86 L420.68,946.03 L420.77,954.52 L420.85,962.24 L420.9,969.11 L420.94,975.05 L420.97,980 L420.99,983.91 L421,986.73 L421,988.43 L421,989" fill="none" stroke="#ff0000" stroke-width="3.8" stroke-linejoin="round"/>
<path d="M406,983.4 L406,982.9 L406,981.42 L406.01,978.97 L406.03,975.58 L406.06,971.29 L406.1,966.14 L406.15,960.2 L406.23,953.52 L406.32,946.19 L406.43,938.29 L406.57,929.89 L406.73,921.1 L406.91,912.02 L407.13,902.74 L407.36,893.36 L407.63,883.99 L407.91,874.74 L408.23,865.7 L408.57,856.98 L408.93,848.67 L409.32,840.86 L409.73,833.65 L410.15,827.11 L410.6,821.31 L411.06,816.32 L411.53,812.19 L412.01,808.98 L412.5,806.71 L413,805.41 L413.5,805.1 L414,805.78 L414.5,807.45 L414.99,810.09 L415.47,813.66 L415.94,818.14 L416.4,823.48 L416.85,829.61 L417.27,836.47 L417.68,843.99 L418.07,852.08 L418.43,860.66 L418.77,869.64 L419.09,878.91 L419.37,888.38 L419.64,897.94 L419.87,907.49 L420.09,916.93 L420.27,926.16 L420.43,935.07 L420.57,943.56 L420.68,951.56 L420.77,958.96 L420.85,965.68 L420.9,971.67 L420.94,976.85 L420.97,981.16 L420.99,984.56 L421,987.02 L421,988.5 L421,989" fill="none" stroke="#0000ff" stroke-width="3.8" stroke-linejoin="round"/>
<path d="M409.32,819.59 L409.17,822.88 L409.03,826.27 L408.89,829.74 L408.75,833.28 L408.61,836.91 L408.48,840.6 L408.35,844.35 L408.23,848.16 L408.11,852.02 L407.99,855.93 L407.88,859.87 L407.77,863.85 L407.66,867.85 L407.56,871.88 L407.46,875.91 L407.36,879.96 L407.27,884.01 L407.18,888.05 L407.1,892.08 L407.02,896.09 L406.94,900.08 L406.87,904.04 L406.8,907.96 L406.73,911.84 L406.67,915.68 L406.61,919.46 L406.55,923.18 L406.5,926.83 L406.45,930.41 L406.4,933.91 L406.36,937.34 L406.32,940.67 L406.28,943.91 L406.25,947.05 L406.22,950.09 L406.19,953.02 L406.16,955.84 L406.14,958.55 L406.12,961.13 L406.1,963.58 L406.08,965.91 L406.07,968.11 L406.05,970.17 L406.04,972.09 L406.03,973.86 L406.02,975.5 L406.02,976.98 L406.01,978.32 L406.01,979.5 L406.01,980.53 L406,981.4 L406,982.12 L406,982.68 L406,983.08 L406,983.32 L406,983.4" fill="none" stroke="#ff0000" stroke-width="3.8" stroke-dasharray="8 7" stroke-dashoffset="0"/>
<path d="M417.53,819.4 L417.68,822.71 L417.83,826.11 L417.97,829.61 L418.11,833.18 L418.25,836.83 L418.39,840.55 L418.52,844.34 L418.65,848.19 L418.77,852.1 L418.89,856.05 L419.01,860.04 L419.12,864.07 L419.23,868.13 L419.34,872.21 L419.44,876.31 L419.54,880.42 L419.64,884.54 L419.73,888.66 L419.82,892.76 L419.9,896.86 L419.98,900.93 L420.06,904.98 L420.13,908.99 L420.2,912.97 L420.27,916.9 L420.33,920.78 L420.39,924.6 L420.45,928.36 L420.5,932.06 L420.55,935.67 L420.6,939.21 L420.64,942.67 L420.68,946.03 L420.72,949.3 L420.75,952.47 L420.78,955.53 L420.81,958.48 L420.84,961.32 L420.86,964.04 L420.88,966.64 L420.9,969.11 L420.92,971.45 L420.93,973.66 L420.95,975.73 L420.96,977.65 L420.97,979.44 L420.98,981.08 L420.98,982.57 L420.99,983.91 L420.99,985.09 L420.99,986.13 L421,987 L421,987.72 L421,988.28 L421,988.68 L421,988.92 L421,989" fill="none" stroke="#ff0000" stroke-width="3.8" stroke-dasharray="8 7" stroke-dashoffset="5"/>
<line x1="406" y1="983.4" x2="421" y2="989" stroke="#b0006a" stroke-width="3.6" stroke-linecap="round"/>
<path d="M511.8,846.2 L511.8,845.62 L511.8,843.88 L511.81,841.01 L511.83,837.04 L511.86,832.01 L511.9,825.97 L511.95,819 L512.03,811.18 L512.12,802.58 L512.23,793.31 L512.37,783.47 L512.53,773.16 L512.71,762.5 L512.93,751.61 L513.16,740.61 L513.43,729.62 L513.71,718.76 L514.03,708.15 L514.37,697.9 L514.73,688.14 L515.12,678.97 L515.53,670.5 L515.95,662.8 L516.4,655.98 L516.86,650.1 L517.33,645.24 L517.81,641.44 L518.3,638.75 L518.8,637.19 L519.3,636.8 L519.8,637.57 L520.3,639.49 L520.79,642.55 L521.27,646.71 L521.74,651.93 L522.2,658.15 L522.65,665.3 L523.07,673.31 L523.48,682.1 L523.87,691.56 L524.23,701.59 L524.57,712.08 L524.89,722.93 L525.17,734 L525.44,745.19 L525.67,756.37 L525.89,767.42 L526.07,778.21 L526.23,788.64 L526.37,798.59 L526.48,807.95 L526.57,816.61 L526.65,824.49 L526.7,831.5 L526.74,837.56 L526.77,842.62 L526.79,846.6 L526.8,849.48 L526.8,851.22 L526.8,851.8" fill="none" stroke="#ff0000" stroke-width="3.8" stroke-linejoin="round"/>
<path d="M511.8,846.2 L511.8,845.73 L511.8,844.31 L511.81,841.97 L511.83,838.72 L511.86,834.62 L511.9,829.7 L511.95,824.01 L512.03,817.63 L512.12,810.62 L512.23,803.06 L512.37,795.04 L512.53,786.63 L512.71,777.95 L512.93,769.07 L513.16,760.11 L513.43,751.15 L513.71,742.31 L514.03,733.67 L514.37,725.34 L514.73,717.39 L515.12,709.94 L515.53,703.04 L515.95,696.79 L516.4,691.26 L516.86,686.49 L517.33,682.55 L517.81,679.48 L518.3,677.32 L518.8,676.09 L519.3,675.8 L519.8,676.46 L520.3,678.06 L520.79,680.59 L521.27,684.02 L521.74,688.31 L522.2,693.42 L522.65,699.29 L523.07,705.86 L523.48,713.06 L523.87,720.81 L524.23,729.02 L524.57,737.61 L524.89,746.48 L525.17,755.54 L525.44,764.69 L525.67,773.83 L525.89,782.86 L526.07,791.69 L526.23,800.21 L526.37,808.34 L526.48,815.98 L526.57,823.06 L526.65,829.5 L526.7,835.22 L526.74,840.18 L526.77,844.3 L526.79,847.56 L526.8,849.91 L526.8,851.33 L526.8,851.8" fill="none" stroke="#0000ff" stroke-width="3.8" stroke-linejoin="round"/>
<path d="M514.55,692.96 L514.41,696.66 L514.28,700.42 L514.15,704.26 L514.03,708.15 L513.91,712.09 L513.79,716.07 L513.68,720.1 L513.57,724.16 L513.46,728.25 L513.36,732.36 L513.26,736.48 L513.16,740.61 L513.07,744.74 L512.98,748.87 L512.9,752.98 L512.82,757.08 L512.74,761.15 L512.67,765.19 L512.6,769.2 L512.53,773.16 L512.47,777.07 L512.41,780.93 L512.35,784.73 L512.3,788.45 L512.25,792.11 L512.2,795.69 L512.16,799.18 L512.12,802.58 L512.08,805.89 L512.05,809.1 L512.02,812.2 L511.99,815.19 L511.96,818.07 L511.94,820.83 L511.92,823.47 L511.9,825.97 L511.88,828.35 L511.87,830.59 L511.85,832.69 L511.84,834.65 L511.83,836.47 L511.82,838.13 L511.82,839.65 L511.81,841.01 L511.81,842.22 L511.81,843.27 L511.8,844.16 L511.8,844.89 L511.8,845.46 L511.8,845.87 L511.8,846.12 L511.8,846.2" fill="none" stroke="#ff0000" stroke-width="3.8" stroke-dasharray="8 7" stroke-dashoffset="0"/>
<path d="M523.91,692.78 L524.05,696.51 L524.19,700.3 L524.32,704.17 L524.45,708.1 L524.57,712.08 L524.69,716.11 L524.81,720.19 L524.92,724.3 L525.03,728.44 L525.14,732.61 L525.24,736.79 L525.34,740.99 L525.44,745.19 L525.53,749.39 L525.62,753.58 L525.7,757.76 L525.78,761.92 L525.86,766.05 L525.93,770.15 L526,774.2 L526.07,778.21 L526.13,782.17 L526.19,786.08 L526.25,789.91 L526.3,793.68 L526.35,797.38 L526.4,800.99 L526.44,804.51 L526.48,807.95 L526.52,811.28 L526.55,814.51 L526.58,817.64 L526.61,820.65 L526.64,823.55 L526.66,826.33 L526.68,828.98 L526.7,831.5 L526.72,833.89 L526.73,836.14 L526.75,838.25 L526.76,840.22 L526.77,842.04 L526.78,843.71 L526.78,845.24 L526.79,846.6 L526.79,847.81 L526.79,848.87 L526.8,849.76 L526.8,850.49 L526.8,851.06 L526.8,851.47 L526.8,851.72 L526.8,851.8" fill="none" stroke="#ff0000" stroke-width="3.8" stroke-dasharray="8 7" stroke-dashoffset="5"/>
<line x1="511.8" y1="846.2" x2="526.8" y2="851.8" stroke="#b0006a" stroke-width="3.6" stroke-linecap="round"/>
<path d="M581.9,872.8 L581.9,872.23 L581.9,870.54 L581.91,867.75 L581.93,863.88 L581.96,858.98 L582,853.11 L582.05,846.32 L582.13,838.71 L582.22,830.34 L582.33,821.31 L582.47,811.73 L582.63,801.69 L582.81,791.32 L583.03,780.72 L583.26,770.01 L583.53,759.31 L583.81,748.74 L584.13,738.41 L584.47,728.44 L584.83,718.94 L585.22,710.02 L585.63,701.77 L586.05,694.28 L586.5,687.64 L586.96,681.93 L587.43,677.19 L587.91,673.5 L588.4,670.89 L588.9,669.38 L589.4,669 L589.9,669.75 L590.4,671.63 L590.89,674.61 L591.37,678.67 L591.84,683.75 L592.3,689.81 L592.75,696.78 L593.17,704.59 L593.58,713.14 L593.97,722.36 L594.33,732.12 L594.67,742.35 L594.99,752.91 L595.27,763.7 L595.54,774.59 L595.77,785.48 L595.99,796.24 L596.17,806.75 L596.33,816.9 L596.47,826.59 L596.58,835.7 L596.67,844.14 L596.75,851.81 L596.8,858.64 L596.84,864.54 L596.87,869.46 L596.89,873.34 L596.9,876.14 L596.9,877.83 L596.9,878.4" fill="none" stroke="#ff0000" stroke-width="3.8" stroke-linejoin="round"/>
<path d="M581.9,872.8 L581.9,872.33 L581.9,870.93 L581.91,868.62 L581.93,865.42 L581.96,861.37 L582,856.52 L582.05,850.91 L582.13,844.61 L582.22,837.7 L582.33,830.24 L582.47,822.32 L582.63,814.03 L582.81,805.46 L583.03,796.7 L583.26,787.86 L583.53,779.02 L583.81,770.3 L584.13,761.78 L584.47,753.55 L584.83,745.72 L585.22,738.36 L585.63,731.56 L586.05,725.4 L586.5,719.94 L586.96,715.24 L587.43,711.35 L587.91,708.33 L588.4,706.2 L588.9,704.98 L589.4,704.7 L589.9,705.35 L590.4,706.94 L590.89,709.44 L591.37,712.82 L591.84,717.06 L592.3,722.1 L592.75,727.9 L593.17,734.38 L593.58,741.48 L593.97,749.13 L594.33,757.24 L594.67,765.71 L594.99,774.47 L595.27,783.41 L595.54,792.44 L595.77,801.46 L595.99,810.37 L596.17,819.08 L596.33,827.49 L596.47,835.51 L596.58,843.06 L596.67,850.04 L596.75,856.39 L596.8,862.04 L596.84,866.93 L596.87,871 L596.89,874.21 L596.9,876.53 L596.9,877.93 L596.9,878.4" fill="none" stroke="#0000ff" stroke-width="3.8" stroke-linejoin="round"/>
<path d="M584.79,720.1 L584.65,723.63 L584.51,727.23 L584.38,730.9 L584.25,734.62 L584.13,738.41 L584.01,742.25 L583.89,746.13 L583.78,750.05 L583.67,754 L583.56,757.98 L583.46,761.98 L583.36,765.99 L583.26,770.01 L583.17,774.03 L583.08,778.05 L583,782.05 L582.92,786.04 L582.84,790 L582.77,793.94 L582.7,797.84 L582.63,801.69 L582.57,805.5 L582.51,809.26 L582.45,812.95 L582.4,816.58 L582.35,820.14 L582.3,823.62 L582.26,827.02 L582.22,830.34 L582.18,833.56 L582.15,836.68 L582.12,839.7 L582.09,842.61 L582.06,845.42 L582.04,848.1 L582.02,850.67 L582,853.11 L581.98,855.42 L581.97,857.6 L581.95,859.65 L581.94,861.56 L581.93,863.32 L581.92,864.95 L581.92,866.42 L581.91,867.75 L581.91,868.92 L581.91,869.95 L581.9,870.82 L581.9,871.53 L581.9,872.08 L581.9,872.48 L581.9,872.72 L581.9,872.8" fill="none" stroke="#ff0000" stroke-width="3.8" stroke-dasharray="8 7" stroke-dashoffset="0"/>
<path d="M593.87,720 L594.01,723.55 L594.15,727.18 L594.29,730.88 L594.42,734.64 L594.55,738.47 L594.67,742.35 L594.79,746.27 L594.91,750.24 L595.02,754.25 L595.13,758.28 L595.24,762.34 L595.34,766.41 L595.44,770.5 L595.54,774.59 L595.63,778.68 L595.72,782.76 L595.8,786.83 L595.88,790.88 L595.96,794.9 L596.03,798.89 L596.1,802.84 L596.17,806.75 L596.23,810.61 L596.29,814.4 L596.35,818.14 L596.4,821.81 L596.45,825.41 L596.5,828.92 L596.54,832.36 L596.58,835.7 L596.62,838.95 L596.65,842.1 L596.68,845.14 L596.71,848.07 L596.74,850.9 L596.76,853.6 L596.78,856.18 L596.8,858.64 L596.82,860.96 L596.83,863.15 L596.85,865.21 L596.86,867.13 L596.87,868.9 L596.88,870.53 L596.88,872.01 L596.89,873.34 L596.89,874.52 L596.89,875.54 L596.9,876.41 L596.9,877.13 L596.9,877.68 L596.9,878.08 L596.9,878.32 L596.9,878.4" fill="none" stroke="#ff0000" stroke-width="3.8" stroke-dasharray="8 7" stroke-dashoffset="5"/>
<line x1="581.9" y1="872.8" x2="596.9" y2="878.4" stroke="#b0006a" stroke-width="3.6" stroke-linecap="round"/>
<path d="M699.3,917.5 L699.3,916.97 L699.3,915.38 L699.31,912.76 L699.33,909.12 L699.36,904.52 L699.4,899.01 L699.45,892.64 L699.53,885.48 L699.62,877.63 L699.74,869.15 L699.88,860.15 L700.04,850.73 L700.23,841 L700.44,831.04 L700.68,820.99 L700.95,810.95 L701.24,801.03 L701.56,791.34 L701.9,781.99 L702.27,773.08 L702.66,764.71 L703.08,756.97 L703.51,749.95 L703.96,743.73 L704.42,738.37 L704.9,733.94 L705.39,730.48 L705.89,728.04 L706.39,726.64 L706.9,726.3 L707.41,727.02 L707.91,728.8 L708.41,731.61 L708.9,735.44 L709.38,740.23 L709.84,745.93 L710.29,752.49 L710.72,759.84 L711.14,767.88 L711.53,776.55 L711.9,785.74 L712.24,795.35 L712.56,805.27 L712.85,815.42 L713.12,825.66 L713.36,835.89 L713.57,846 L713.76,855.88 L713.92,865.42 L714.06,874.52 L714.18,883.08 L714.27,891.01 L714.35,898.22 L714.4,904.63 L714.44,910.18 L714.47,914.8 L714.49,918.45 L714.5,921.08 L714.5,922.67 L714.5,923.2" fill="none" stroke="#ff0000" stroke-width="3.8" stroke-linejoin="round"/>
<path d="M699.3,917.5 L699.3,917.03 L699.3,915.61 L699.31,913.27 L699.33,910.03 L699.36,905.94 L699.4,901.02 L699.45,895.35 L699.53,888.97 L699.62,881.97 L699.74,874.43 L699.88,866.41 L700.04,858.02 L700.23,849.35 L700.44,840.49 L700.68,831.54 L700.95,822.6 L701.24,813.77 L701.56,805.15 L701.9,796.83 L702.27,788.9 L702.66,781.46 L703.08,774.58 L703.51,768.34 L703.96,762.81 L704.42,758.06 L704.9,754.13 L705.39,751.07 L705.89,748.91 L706.39,747.68 L706.9,747.4 L707.41,748.06 L707.91,749.67 L708.41,752.2 L708.9,755.63 L709.38,759.91 L709.84,765.02 L710.29,770.88 L710.72,777.45 L711.14,784.64 L711.53,792.37 L711.9,800.58 L712.24,809.16 L712.56,818.02 L712.85,827.07 L713.12,836.21 L713.36,845.34 L713.57,854.36 L713.76,863.17 L713.92,871.68 L714.06,879.8 L714.18,887.43 L714.27,894.5 L714.35,900.93 L714.4,906.65 L714.44,911.59 L714.47,915.71 L714.49,918.96 L714.5,921.31 L714.5,922.73 L714.5,923.2" fill="none" stroke="#0000ff" stroke-width="3.8" stroke-linejoin="round"/>
<path d="M702.82,761.73 L702.66,764.71 L702.51,767.78 L702.37,770.93 L702.22,774.16 L702.08,777.47 L701.95,780.85 L701.81,784.29 L701.69,787.79 L701.56,791.34 L701.44,794.94 L701.32,798.58 L701.2,802.26 L701.09,805.97 L700.98,809.7 L700.88,813.45 L700.78,817.22 L700.68,820.99 L700.59,824.77 L700.5,828.54 L700.41,832.3 L700.33,836.04 L700.25,839.76 L700.18,843.45 L700.11,847.11 L700.04,850.73 L699.98,854.31 L699.91,857.84 L699.86,861.3 L699.8,864.71 L699.75,868.05 L699.71,871.32 L699.66,874.52 L699.62,877.63 L699.59,880.65 L699.55,883.58 L699.52,886.42 L699.49,889.15 L699.46,891.78 L699.44,894.31 L699.42,896.71 L699.4,899.01 L699.38,901.18 L699.37,903.23 L699.35,905.15 L699.34,906.94 L699.33,908.6 L699.32,910.12 L699.32,911.51 L699.31,912.76 L699.31,913.86 L699.31,914.82 L699.3,915.64 L699.3,916.31 L699.3,916.83 L699.3,917.2 L699.3,917.43 L699.3,917.5" fill="none" stroke="#ff0000" stroke-width="3.8" stroke-dasharray="8 7" stroke-dashoffset="0"/>
<path d="M710.83,761.79 L710.98,764.79 L711.14,767.88 L711.29,771.07 L711.43,774.33 L711.58,777.67 L711.72,781.08 L711.85,784.56 L711.99,788.1 L712.11,791.7 L712.24,795.35 L712.36,799.04 L712.48,802.77 L712.6,806.53 L712.71,810.33 L712.82,814.14 L712.92,817.97 L713.02,821.81 L713.12,825.66 L713.21,829.5 L713.3,833.34 L713.39,837.16 L713.47,840.97 L713.55,844.75 L713.62,848.5 L713.69,852.21 L713.76,855.88 L713.82,859.5 L713.89,863.07 L713.94,866.59 L714,870.03 L714.05,873.41 L714.09,876.72 L714.14,879.94 L714.18,883.08 L714.21,886.14 L714.25,889.09 L714.28,891.95 L714.31,894.71 L714.34,897.36 L714.36,899.9 L714.38,902.33 L714.4,904.63 L714.42,906.82 L714.43,908.88 L714.45,910.81 L714.46,912.61 L714.47,914.28 L714.48,915.81 L714.48,917.2 L714.49,918.45 L714.49,919.55 L714.49,920.52 L714.5,921.33 L714.5,922 L714.5,922.53 L714.5,922.9 L714.5,923.13 L714.5,923.2" fill="none" stroke="#ff0000" stroke-width="3.8" stroke-dasharray="8 7" stroke-dashoffset="5"/>
<line x1="699.3" y1="917.5" x2="714.5" y2="923.2" stroke="#b0006a" stroke-width="3.6" stroke-linecap="round"/>
<text x="239" y="906.6" font-size="31.3" text-anchor="start" fill="#111111" stroke="#111111" stroke-width="0.3">LF</text>
<text x="321.3" y="955" font-size="31.3" text-anchor="start" fill="#111111" stroke="#111111" stroke-width="0.3">LM</text>
<text x="439.1" y="987.3" font-size="31.3" text-anchor="start" fill="#111111" stroke="#111111" stroke-width="0.3">LH</text>
<text x="486" y="884.2" font-size="31.3" text-anchor="start" fill="#111111" stroke="#111111" stroke-width="0.3">RF</text>
<text x="554.6" y="909.2" font-size="31.3" text-anchor="start" fill="#111111" stroke="#111111" stroke-width="0.3">RM</text>
<text x="641.3" y="941.1" font-size="31.3" text-anchor="start" fill="#111111" stroke="#111111" stroke-width="0.3">RH</text>
<rect x="215.4" y="567" width="490.6" height="73.5" fill="#ffffff" stroke="#262626" stroke-width="2.9"/>
<line x1="226.1" y1="587.3" x2="318.9" y2="587.3" stroke="#0000ff" stroke-width="3.1" stroke-linecap="round"/>
<line x1="226.1" y1="620.1" x2="318.9" y2="620.1" stroke="#ff0000" stroke-width="3.1" stroke-linecap="round"/>
<text x="327.5" y="596.8" font-size="23.6" text-anchor="start" fill="#141414" textLength="309.6" lengthAdjust="spacingAndGlyphs" stroke="#141414" stroke-width="0.4">Tip trajectories in tripod gait</text>
<text x="327.5" y="630" font-size="23.6" text-anchor="start" fill="#141414" textLength="368.6" lengthAdjust="spacingAndGlyphs" stroke="#141414" stroke-width="0.4">Tip trajectories in quadruped gait</text>
<text x="-0.8" y="819.9" font-size="34.4" text-anchor="start" fill="#000000" textLength="41.2" lengthAdjust="spacingAndGlyphs" stroke="#000000" stroke-width="0.2">(b)</text>
</g>
<g id="plot2d-tr">
<line x1="1220.95" y1="37" x2="1220.95" y2="425.4" stroke="#d6d6d6" stroke-width="2.0" />
<line x1="1377.1" y1="37" x2="1377.1" y2="425.4" stroke="#d6d6d6" stroke-width="2.0" />
<line x1="1533.25" y1="37" x2="1533.25" y2="425.4" stroke="#d6d6d6" stroke-width="2.0" />
<line x1="1064.8" y1="134.1" x2="1689.4" y2="134.1" stroke="#d6d6d6" stroke-width="2.0" />
<line x1="1064.8" y1="231.2" x2="1689.4" y2="231.2" stroke="#d6d6d6" stroke-width="2.0" />
<line x1="1064.8" y1="328.3" x2="1689.4" y2="328.3" stroke="#d6d6d6" stroke-width="2.0" />
<path d="M1138,425.4 L1138,424.55 L1138.01,422.02 L1138.03,417.83 L1138.07,412.03 L1138.13,404.67 L1138.23,395.85 L1138.36,385.66 L1138.54,374.21 L1138.76,361.63 L1139.03,348.05 L1139.35,333.62 L1139.73,318.5 L1140.17,302.86 L1140.67,286.87 L1141.23,270.7 L1141.86,254.53 L1142.54,238.54 L1143.29,222.9 L1144.1,207.78 L1144.96,193.35 L1145.88,179.77 L1146.84,167.19 L1147.86,155.74 L1148.91,145.55 L1150,136.73 L1151.12,129.37 L1152.27,123.57 L1153.44,119.38 L1154.61,116.85 L1155.8,116 L1156.99,116.85 L1158.16,119.38 L1159.33,123.57 L1160.48,129.37 L1161.6,136.73 L1162.69,145.55 L1163.74,155.74 L1164.76,167.19 L1165.72,179.77 L1166.64,193.35 L1167.5,207.78 L1168.31,222.9 L1169.06,238.54 L1169.74,254.53 L1170.37,270.7 L1170.93,286.87 L1171.43,302.86 L1171.87,318.5 L1172.25,333.62 L1172.57,348.05 L1172.84,361.63 L1173.06,374.21 L1173.24,385.66 L1173.37,395.85 L1173.47,404.67 L1173.53,412.03 L1173.57,417.83 L1173.59,422.02 L1173.6,424.55 L1173.6,425.4" fill="none" stroke="#0000ff" stroke-width="3.4" stroke-linejoin="round"/>
<path d="M1138,425.4 L1138,424.59 L1138.01,422.15 L1138.03,418.12 L1138.07,412.54 L1138.13,405.48 L1138.23,397 L1138.36,387.21 L1138.54,376.2 L1138.76,364.1 L1139.03,351.05 L1139.35,337.18 L1139.73,322.65 L1140.17,307.62 L1140.67,292.24 L1141.23,276.7 L1141.86,261.16 L1142.54,245.78 L1143.29,230.75 L1144.1,216.22 L1144.96,202.35 L1145.88,189.3 L1146.84,177.2 L1147.86,166.19 L1148.91,156.4 L1150,147.92 L1151.12,140.86 L1152.27,135.28 L1153.44,131.25 L1154.61,128.81 L1155.8,128 L1156.99,128.81 L1158.16,131.25 L1159.33,135.28 L1160.48,140.86 L1161.6,147.92 L1162.69,156.4 L1163.74,166.19 L1164.76,177.2 L1165.72,189.3 L1166.64,202.35 L1167.5,216.22 L1168.31,230.75 L1169.06,245.78 L1169.74,261.16 L1170.37,276.7 L1170.93,292.24 L1171.43,307.62 L1171.87,322.65 L1172.25,337.18 L1172.57,351.05 L1172.84,364.1 L1173.06,376.2 L1173.24,387.21 L1173.37,397 L1173.47,405.48 L1173.53,412.54 L1173.57,418.12 L1173.59,422.15 L1173.6,424.59 L1173.6,425.4" fill="none" stroke="#0000ff" stroke-width="3.4" stroke-linejoin="round"/>
<path d="M1138,425.4 L1138,424.52 L1138.01,421.91 L1138.03,417.58 L1138.06,411.58 L1138.12,403.99 L1138.2,394.88 L1138.32,384.35 L1138.48,372.53 L1138.67,359.53 L1138.91,345.5 L1139.2,330.6 L1139.54,314.98 L1139.93,298.82 L1140.37,282.3 L1140.87,265.6 L1141.42,248.9 L1142.03,232.38 L1142.7,216.22 L1143.41,200.6 L1144.18,185.7 L1144.99,171.67 L1145.85,158.67 L1146.75,146.85 L1147.68,136.32 L1148.65,127.21 L1149.65,119.62 L1150.67,113.62 L1151.7,109.29 L1152.75,106.68 L1153.8,105.8 L1154.85,106.68 L1155.9,109.29 L1156.93,113.62 L1157.95,119.62 L1158.95,127.21 L1159.92,136.32 L1160.85,146.85 L1161.75,158.67 L1162.61,171.67 L1163.42,185.7 L1164.19,200.6 L1164.9,216.22 L1165.57,232.38 L1166.18,248.9 L1166.73,265.6 L1167.23,282.3 L1167.67,298.82 L1168.06,314.98 L1168.4,330.6 L1168.69,345.5 L1168.93,359.53 L1169.12,372.53 L1169.28,384.35 L1169.4,394.88 L1169.48,403.99 L1169.54,411.58 L1169.57,417.58 L1169.59,421.91 L1169.6,424.52 L1169.6,425.4" fill="none" stroke="#ff0000" stroke-width="3.4" stroke-linejoin="round"/>
<path d="M1138,425.4 L1138,424.53 L1138.01,421.95 L1138.03,417.67 L1138.06,411.74 L1138.13,404.24 L1138.22,395.23 L1138.34,384.83 L1138.5,373.14 L1138.71,360.29 L1138.96,346.43 L1139.27,331.69 L1139.62,316.26 L1140.04,300.29 L1140.51,283.96 L1141.03,267.45 L1141.62,250.94 L1142.26,234.61 L1142.96,218.64 L1143.72,203.21 L1144.53,188.48 L1145.39,174.61 L1146.3,161.76 L1147.25,150.07 L1148.24,139.67 L1149.26,130.66 L1150.31,123.16 L1151.39,117.23 L1152.48,112.95 L1153.59,110.37 L1154.7,109.5 L1155.81,110.37 L1156.92,112.95 L1158.01,117.23 L1159.09,123.16 L1160.14,130.66 L1161.16,139.67 L1162.15,150.07 L1163.1,161.76 L1164.01,174.61 L1164.87,188.47 L1165.68,203.21 L1166.44,218.64 L1167.14,234.61 L1167.78,250.94 L1168.37,267.45 L1168.89,283.96 L1169.36,300.29 L1169.78,316.26 L1170.13,331.69 L1170.44,346.43 L1170.69,360.29 L1170.9,373.14 L1171.06,384.83 L1171.18,395.23 L1171.27,404.24 L1171.34,411.74 L1171.37,417.67 L1171.39,421.95 L1171.4,424.53 L1171.4,425.4" fill="none" stroke="#ff0000" stroke-width="3.4" stroke-linejoin="round"/>
<path d="M1138,425.4 L1138,424.57 L1138.01,422.08 L1138.03,417.98 L1138.07,412.28 L1138.13,405.08 L1138.23,396.43 L1138.36,386.44 L1138.53,375.21 L1138.74,362.87 L1139.01,349.55 L1139.33,335.4 L1139.7,320.58 L1140.13,305.24 L1140.63,289.56 L1141.18,273.7 L1141.79,257.84 L1142.47,242.16 L1143.2,226.82 L1143.99,212 L1144.84,197.85 L1145.74,184.53 L1146.69,172.19 L1147.69,160.96 L1148.73,150.97 L1149.8,142.32 L1150.9,135.12 L1152.03,129.42 L1153.18,125.32 L1154.33,122.83 L1155.5,122 L1156.67,122.83 L1157.82,125.32 L1158.97,129.42 L1160.1,135.12 L1161.2,142.32 L1162.27,150.97 L1163.31,160.96 L1164.31,172.19 L1165.26,184.53 L1166.16,197.85 L1167.01,212 L1167.8,226.82 L1168.53,242.16 L1169.21,257.84 L1169.82,273.7 L1170.37,289.56 L1170.87,305.24 L1171.3,320.58 L1171.67,335.4 L1171.99,349.55 L1172.26,362.87 L1172.47,375.21 L1172.64,386.44 L1172.77,396.43 L1172.87,405.08 L1172.93,412.28 L1172.97,417.98 L1172.99,422.08 L1173,424.57 L1173,425.4" fill="none" stroke="#ff0000" stroke-width="3.4" stroke-linejoin="round"/>
<path d="M1408.7,425.4 L1408.7,424.58 L1408.71,422.13 L1408.73,418.09 L1408.77,412.48 L1408.83,405.38 L1408.93,396.86 L1409.06,387.01 L1409.24,375.95 L1409.46,363.79 L1409.73,350.68 L1410.05,336.74 L1410.44,322.13 L1410.88,307.02 L1411.38,291.57 L1411.94,275.95 L1412.57,260.33 L1413.26,244.88 L1414.01,229.77 L1414.81,215.16 L1415.68,201.23 L1416.6,188.11 L1417.57,175.95 L1418.58,164.89 L1419.64,155.04 L1420.73,146.52 L1421.86,139.42 L1423.01,133.81 L1424.18,129.77 L1425.36,127.32 L1426.55,126.5 L1427.74,127.32 L1428.92,129.77 L1430.09,133.81 L1431.24,139.42 L1432.37,146.52 L1433.46,155.04 L1434.52,164.89 L1435.53,175.95 L1436.5,188.11 L1437.42,201.22 L1438.29,215.16 L1439.09,229.77 L1439.84,244.88 L1440.53,260.33 L1441.16,275.95 L1441.72,291.57 L1442.22,307.02 L1442.66,322.13 L1443.05,336.74 L1443.37,350.68 L1443.64,363.79 L1443.86,375.95 L1444.04,387.01 L1444.17,396.86 L1444.27,405.38 L1444.33,412.48 L1444.37,418.09 L1444.39,422.13 L1444.4,424.58 L1444.4,425.4" fill="none" stroke="#0000ff" stroke-width="3.4" stroke-linejoin="round"/>
<path d="M1408.7,425.4 L1408.7,424.59 L1408.71,422.18 L1408.73,418.18 L1408.77,412.65 L1408.83,405.65 L1408.93,397.24 L1409.06,387.53 L1409.24,376.61 L1409.46,364.62 L1409.73,351.68 L1410.05,337.92 L1410.44,323.51 L1410.88,308.61 L1411.38,293.36 L1411.94,277.95 L1412.57,262.54 L1413.26,247.29 L1414.01,232.39 L1414.81,217.98 L1415.68,204.23 L1416.6,191.28 L1417.57,179.29 L1418.58,168.37 L1419.64,158.66 L1420.73,150.25 L1421.86,143.25 L1423.01,137.72 L1424.18,133.72 L1425.36,131.31 L1426.55,130.5 L1427.74,131.31 L1428.92,133.72 L1430.09,137.72 L1431.24,143.25 L1432.37,150.25 L1433.46,158.66 L1434.52,168.37 L1435.53,179.29 L1436.5,191.28 L1437.42,204.22 L1438.29,217.98 L1439.09,232.39 L1439.84,247.29 L1440.53,262.54 L1441.16,277.95 L1441.72,293.36 L1442.22,308.61 L1442.66,323.51 L1443.05,337.92 L1443.37,351.68 L1443.64,364.62 L1443.86,376.61 L1444.04,387.53 L1444.17,397.24 L1444.27,405.65 L1444.33,412.65 L1444.37,418.18 L1444.39,422.18 L1444.4,424.59 L1444.4,425.4" fill="none" stroke="#0000ff" stroke-width="3.4" stroke-linejoin="round"/>
<path d="M1408.7,425.4 L1408.7,424.6 L1408.71,422.22 L1408.73,418.28 L1408.77,412.83 L1408.83,405.91 L1408.93,397.62 L1409.06,388.04 L1409.24,377.28 L1409.46,365.44 L1409.73,352.68 L1410.05,339.11 L1410.44,324.9 L1410.88,310.19 L1411.38,295.15 L1411.94,279.95 L1412.57,264.75 L1413.26,249.71 L1414.01,235 L1414.81,220.79 L1415.68,207.23 L1416.6,194.46 L1417.57,182.62 L1418.58,171.86 L1419.64,162.28 L1420.73,153.99 L1421.86,147.07 L1423.01,141.62 L1424.18,137.68 L1425.36,135.3 L1426.55,134.5 L1427.74,135.3 L1428.92,137.68 L1430.09,141.62 L1431.24,147.07 L1432.37,153.99 L1433.46,162.28 L1434.52,171.86 L1435.53,182.62 L1436.5,194.46 L1437.42,207.22 L1438.29,220.79 L1439.09,235 L1439.84,249.71 L1440.53,264.75 L1441.16,279.95 L1441.72,295.15 L1442.22,310.19 L1442.66,324.9 L1443.05,339.11 L1443.37,352.68 L1443.64,365.44 L1443.86,377.28 L1444.04,388.04 L1444.17,397.62 L1444.27,405.91 L1444.33,412.83 L1444.37,418.28 L1444.39,422.22 L1444.4,424.6 L1444.4,425.4" fill="none" stroke="#0000ff" stroke-width="3.4" stroke-linejoin="round"/>
<path d="M1408.7,425.4 L1408.7,424.45 L1408.71,421.6 L1408.73,416.9 L1408.76,410.38 L1408.83,402.13 L1408.92,392.23 L1409.04,380.78 L1409.21,367.93 L1409.41,353.8 L1409.67,338.55 L1409.97,322.35 L1410.33,305.38 L1410.75,287.81 L1411.22,269.86 L1411.75,251.7 L1412.34,233.54 L1412.99,215.59 L1413.69,198.02 L1414.45,181.05 L1415.27,164.85 L1416.13,149.6 L1417.05,135.47 L1418,122.62 L1419,111.17 L1420.03,101.27 L1421.08,93.02 L1422.17,86.5 L1423.27,81.8 L1424.38,78.95 L1425.5,78 L1426.62,78.95 L1427.73,81.8 L1428.83,86.5 L1429.92,93.02 L1430.97,101.27 L1432,111.17 L1433,122.62 L1433.95,135.47 L1434.87,149.6 L1435.73,164.85 L1436.55,181.05 L1437.31,198.02 L1438.01,215.59 L1438.66,233.54 L1439.25,251.7 L1439.78,269.86 L1440.25,287.81 L1440.67,305.38 L1441.03,322.35 L1441.33,338.55 L1441.59,353.8 L1441.79,367.93 L1441.96,380.78 L1442.08,392.23 L1442.17,402.13 L1442.24,410.38 L1442.27,416.9 L1442.29,421.6 L1442.3,424.45 L1442.3,425.4" fill="none" stroke="#ff0000" stroke-width="3.4" stroke-linejoin="round"/>
<path d="M1408.7,425.4 L1408.7,424.56 L1408.71,422.05 L1408.73,417.9 L1408.77,412.15 L1408.83,404.86 L1408.92,396.12 L1409.05,386.02 L1409.21,374.68 L1409.42,362.21 L1409.68,348.75 L1409.99,334.45 L1410.35,319.47 L1410.77,303.97 L1411.25,288.12 L1411.79,272.1 L1412.39,256.08 L1413.04,240.23 L1413.75,224.73 L1414.52,209.75 L1415.35,195.45 L1416.22,181.99 L1417.15,169.52 L1418.11,158.18 L1419.12,148.08 L1420.16,139.34 L1421.23,132.05 L1422.33,126.3 L1423.44,122.15 L1424.57,119.64 L1425.7,118.8 L1426.83,119.64 L1427.96,122.15 L1429.07,126.3 L1430.17,132.05 L1431.24,139.34 L1432.28,148.08 L1433.29,158.18 L1434.25,169.52 L1435.18,181.99 L1436.05,195.45 L1436.88,209.75 L1437.65,224.73 L1438.36,240.23 L1439.01,256.08 L1439.61,272.1 L1440.15,288.12 L1440.63,303.97 L1441.05,319.47 L1441.41,334.45 L1441.72,348.75 L1441.98,362.21 L1442.19,374.68 L1442.35,386.02 L1442.48,396.12 L1442.57,404.86 L1442.63,412.15 L1442.67,417.9 L1442.69,422.05 L1442.7,424.56 L1442.7,425.4" fill="none" stroke="#ff0000" stroke-width="3.4" stroke-linejoin="round"/>
<path d="M1408.7,425.4 L1408.7,424.57 L1408.71,422.08 L1408.73,417.97 L1408.77,412.28 L1408.83,405.06 L1408.92,396.41 L1409.05,386.41 L1409.21,375.17 L1409.42,362.83 L1409.68,349.5 L1409.99,335.34 L1410.35,320.51 L1410.77,305.16 L1411.25,289.47 L1411.79,273.6 L1412.39,257.73 L1413.04,242.04 L1413.75,226.69 L1414.52,211.86 L1415.35,197.7 L1416.22,184.37 L1417.15,172.03 L1418.11,160.79 L1419.12,150.79 L1420.16,142.14 L1421.23,134.92 L1422.33,129.23 L1423.44,125.12 L1424.57,122.63 L1425.7,121.8 L1426.83,122.63 L1427.96,125.12 L1429.07,129.23 L1430.17,134.92 L1431.24,142.14 L1432.28,150.79 L1433.29,160.79 L1434.25,172.03 L1435.18,184.37 L1436.05,197.7 L1436.88,211.86 L1437.65,226.69 L1438.36,242.04 L1439.01,257.73 L1439.61,273.6 L1440.15,289.47 L1440.63,305.16 L1441.05,320.51 L1441.41,335.34 L1441.72,349.5 L1441.98,362.83 L1442.19,375.17 L1442.35,386.41 L1442.48,396.41 L1442.57,405.06 L1442.63,412.28 L1442.67,417.97 L1442.69,422.08 L1442.7,424.57 L1442.7,425.4" fill="none" stroke="#ff0000" stroke-width="3.4" stroke-linejoin="round"/>
<path d="M1570,425.4 L1570,424.57 L1570.01,422.11 L1570.03,418.02 L1570.07,412.37 L1570.13,405.21 L1570.22,396.62 L1570.35,386.69 L1570.52,375.54 L1570.73,363.28 L1571,350.05 L1571.31,336 L1571.68,321.27 L1572.11,306.03 L1572.6,290.45 L1573.14,274.7 L1573.75,258.95 L1574.42,243.37 L1575.14,228.13 L1575.93,213.4 L1576.76,199.35 L1577.65,186.12 L1578.59,173.86 L1579.58,162.71 L1580.6,152.78 L1581.66,144.19 L1582.75,137.03 L1583.87,131.38 L1585,127.29 L1586.15,124.83 L1587.3,124 L1588.45,124.83 L1589.6,127.29 L1590.73,131.38 L1591.85,137.03 L1592.94,144.19 L1594,152.78 L1595.02,162.71 L1596.01,173.86 L1596.95,186.12 L1597.84,199.35 L1598.67,213.4 L1599.46,228.13 L1600.18,243.37 L1600.85,258.95 L1601.46,274.7 L1602,290.45 L1602.49,306.03 L1602.92,321.27 L1603.29,336 L1603.6,350.05 L1603.87,363.28 L1604.08,375.54 L1604.25,386.69 L1604.38,396.62 L1604.47,405.21 L1604.53,412.37 L1604.57,418.02 L1604.59,422.11 L1604.6,424.57 L1604.6,425.4" fill="none" stroke="#0000ff" stroke-width="3.4" stroke-linejoin="round"/>
<path d="M1570,425.4 L1570,424.59 L1570.01,422.15 L1570.03,418.12 L1570.07,412.54 L1570.13,405.48 L1570.22,397 L1570.35,387.21 L1570.52,376.2 L1570.73,364.1 L1571,351.05 L1571.31,337.18 L1571.68,322.65 L1572.11,307.62 L1572.6,292.24 L1573.14,276.7 L1573.75,261.16 L1574.42,245.78 L1575.14,230.75 L1575.93,216.22 L1576.76,202.35 L1577.65,189.3 L1578.59,177.2 L1579.58,166.19 L1580.6,156.4 L1581.66,147.92 L1582.75,140.86 L1583.87,135.28 L1585,131.25 L1586.15,128.81 L1587.3,128 L1588.45,128.81 L1589.6,131.25 L1590.73,135.28 L1591.85,140.86 L1592.94,147.92 L1594,156.4 L1595.02,166.19 L1596.01,177.2 L1596.95,189.3 L1597.84,202.35 L1598.67,216.22 L1599.46,230.75 L1600.18,245.78 L1600.85,261.16 L1601.46,276.7 L1602,292.24 L1602.49,307.62 L1602.92,322.65 L1603.29,337.18 L1603.6,351.05 L1603.87,364.1 L1604.08,376.2 L1604.25,387.21 L1604.38,397 L1604.47,405.48 L1604.53,412.54 L1604.57,418.12 L1604.59,422.15 L1604.6,424.59 L1604.6,425.4" fill="none" stroke="#0000ff" stroke-width="3.4" stroke-linejoin="round"/>
<path d="M1570,425.4 L1570,424.6 L1570.01,422.19 L1570.03,418.22 L1570.07,412.72 L1570.13,405.75 L1570.22,397.38 L1570.35,387.72 L1570.52,376.86 L1570.73,364.93 L1571,352.05 L1571.31,338.37 L1571.68,324.03 L1572.11,309.2 L1572.6,294.03 L1573.14,278.7 L1573.75,263.37 L1574.42,248.2 L1575.14,233.37 L1575.93,219.03 L1576.76,205.35 L1577.65,192.47 L1578.59,180.54 L1579.58,169.68 L1580.6,160.02 L1581.66,151.65 L1582.75,144.68 L1583.87,139.18 L1585,135.21 L1586.15,132.8 L1587.3,132 L1588.45,132.8 L1589.6,135.21 L1590.73,139.18 L1591.85,144.68 L1592.94,151.65 L1594,160.02 L1595.02,169.68 L1596.01,180.54 L1596.95,192.47 L1597.84,205.35 L1598.67,219.03 L1599.46,233.37 L1600.18,248.2 L1600.85,263.37 L1601.46,278.7 L1602,294.03 L1602.49,309.2 L1602.92,324.03 L1603.29,338.37 L1603.6,352.05 L1603.87,364.93 L1604.08,376.86 L1604.25,387.72 L1604.38,397.38 L1604.47,405.75 L1604.53,412.72 L1604.57,418.22 L1604.59,422.19 L1604.6,424.6 L1604.6,425.4" fill="none" stroke="#0000ff" stroke-width="3.4" stroke-linejoin="round"/>
<path d="M1570,425.4 L1570,424.46 L1570.01,421.66 L1570.03,417.02 L1570.06,410.6 L1570.12,402.46 L1570.21,392.7 L1570.33,381.43 L1570.49,368.76 L1570.69,354.83 L1570.94,339.8 L1571.23,323.83 L1571.58,307.1 L1571.98,289.79 L1572.44,272.1 L1572.95,254.2 L1573.52,236.3 L1574.15,218.61 L1574.83,201.3 L1575.57,184.57 L1576.35,168.6 L1577.19,153.57 L1578.07,139.64 L1579,126.97 L1579.96,115.7 L1580.96,105.94 L1581.98,97.8 L1583.03,91.38 L1584.09,86.74 L1585.17,83.94 L1586.25,83 L1587.33,83.94 L1588.41,86.74 L1589.47,91.38 L1590.52,97.8 L1591.54,105.94 L1592.54,115.7 L1593.5,126.97 L1594.43,139.64 L1595.31,153.57 L1596.15,168.6 L1596.93,184.57 L1597.67,201.3 L1598.35,218.61 L1598.98,236.3 L1599.55,254.2 L1600.06,272.1 L1600.52,289.79 L1600.92,307.1 L1601.27,323.83 L1601.56,339.8 L1601.81,354.83 L1602.01,368.76 L1602.17,381.43 L1602.29,392.7 L1602.38,402.46 L1602.44,410.6 L1602.47,417.02 L1602.49,421.66 L1602.5,424.46 L1602.5,425.4" fill="none" stroke="#ff0000" stroke-width="3.4" stroke-linejoin="round"/>
<path d="M1570,425.4 L1570,424.47 L1570.01,421.69 L1570.03,417.08 L1570.06,410.71 L1570.12,402.63 L1570.21,392.94 L1570.34,381.75 L1570.5,369.17 L1570.7,355.34 L1570.95,340.43 L1571.26,324.57 L1571.61,307.97 L1572.02,290.78 L1572.48,273.21 L1573.01,255.45 L1573.59,237.69 L1574.23,220.12 L1574.92,202.93 L1575.67,186.33 L1576.47,170.48 L1577.32,155.56 L1578.22,141.73 L1579.16,129.15 L1580.14,117.96 L1581.16,108.27 L1582.2,100.19 L1583.27,93.82 L1584.35,89.21 L1585.45,86.43 L1586.55,85.5 L1587.65,86.43 L1588.75,89.21 L1589.83,93.82 L1590.9,100.19 L1591.94,108.27 L1592.96,117.96 L1593.94,129.15 L1594.88,141.73 L1595.78,155.56 L1596.63,170.47 L1597.43,186.33 L1598.18,202.93 L1598.87,220.12 L1599.51,237.69 L1600.09,255.45 L1600.62,273.21 L1601.08,290.78 L1601.49,307.97 L1601.84,324.57 L1602.15,340.43 L1602.4,355.34 L1602.6,369.17 L1602.76,381.75 L1602.89,392.94 L1602.98,402.63 L1603.04,410.71 L1603.07,417.08 L1603.09,421.69 L1603.1,424.47 L1603.1,425.4" fill="none" stroke="#ff0000" stroke-width="3.4" stroke-linejoin="round"/>
<rect x="1064.8" y="37" width="624.6" height="388.4" fill="none" stroke="#262626" stroke-width="3.0"/>
<line x1="1138" y1="425.4" x2="1173" y2="425.4" stroke="#ff0000" stroke-width="3.6" stroke-linecap="square"/>
<line x1="1408.7" y1="425.4" x2="1442.7" y2="425.4" stroke="#ff0000" stroke-width="3.6" stroke-linecap="square"/>
<line x1="1570" y1="425.4" x2="1603.1" y2="425.4" stroke="#ff0000" stroke-width="3.6" stroke-linecap="square"/>
<line x1="1220.95" y1="425.4" x2="1220.95" y2="416.9" stroke="#262626" stroke-width="2.5" />
<line x1="1220.95" y1="37" x2="1220.95" y2="45.5" stroke="#262626" stroke-width="2.5" />
<line x1="1377.1" y1="425.4" x2="1377.1" y2="416.9" stroke="#262626" stroke-width="2.5" />
<line x1="1377.1" y1="37" x2="1377.1" y2="45.5" stroke="#262626" stroke-width="2.5" />
<line x1="1533.25" y1="425.4" x2="1533.25" y2="416.9" stroke="#262626" stroke-width="2.5" />
<line x1="1533.25" y1="37" x2="1533.25" y2="45.5" stroke="#262626" stroke-width="2.5" />
<line x1="1064.8" y1="134.1" x2="1073.3" y2="134.1" stroke="#262626" stroke-width="2.5" />
<line x1="1689.4" y1="134.1" x2="1680.9" y2="134.1" stroke="#262626" stroke-width="2.5" />
<line x1="1064.8" y1="231.2" x2="1073.3" y2="231.2" stroke="#262626" stroke-width="2.5" />
<line x1="1689.4" y1="231.2" x2="1680.9" y2="231.2" stroke="#262626" stroke-width="2.5" />
<line x1="1064.8" y1="328.3" x2="1073.3" y2="328.3" stroke="#262626" stroke-width="2.5" />
<line x1="1689.4" y1="328.3" x2="1680.9" y2="328.3" stroke="#262626" stroke-width="2.5" />
<text x="1059" y="47.7" font-size="25.3" text-anchor="end" fill="#262626" stroke="#262626" stroke-width="0.55">-130</text>
<text x="1059" y="144.8" font-size="25.3" text-anchor="end" fill="#262626" stroke="#262626" stroke-width="0.55">-135</text>
<text x="1059" y="241.9" font-size="25.3" text-anchor="end" fill="#262626" stroke="#262626" stroke-width="0.55">-140</text>
<text x="1059" y="339" font-size="25.3" text-anchor="end" fill="#262626" stroke="#262626" stroke-width="0.55">-145</text>
<text x="1059" y="436.8" font-size="25.3" text-anchor="end" fill="#262626" stroke="#262626" stroke-width="0.55">-150</text>
<text x="1063.8" y="458.3" font-size="25.3" text-anchor="middle" fill="#262626" stroke="#262626" stroke-width="0.55">-400</text>
<text x="1219.95" y="458.3" font-size="25.3" text-anchor="middle" fill="#262626" stroke="#262626" stroke-width="0.55">-200</text>
<text x="1376.1" y="458.3" font-size="25.3" text-anchor="middle" fill="#262626" stroke="#262626" stroke-width="0.55">0</text>
<text x="1532.25" y="458.3" font-size="25.3" text-anchor="middle" fill="#262626" stroke="#262626" stroke-width="0.55">200</text>
<text x="1688.4" y="458.3" font-size="25.3" text-anchor="middle" fill="#262626" stroke="#262626" stroke-width="0.55">400</text>
<text x="1377" y="492.8" font-size="26.4" text-anchor="middle" fill="#262626" textLength="76.63" lengthAdjust="spacingAndGlyphs" stroke="#262626" stroke-width="0.55">y(mm)</text>
<text transform="translate(996.4,230) rotate(-90)" font-size="26.4" text-anchor="middle" fill="#262626" stroke="#262626" stroke-width="0.55" textLength="76.63" lengthAdjust="spacingAndGlyphs">z(mm)</text>
<text x="1198.9" y="361" font-size="32.4" text-anchor="start" fill="#111111" stroke="#111111" stroke-width="0.3">LH</text>
<text x="1197.2" y="402.7" font-size="32.4" text-anchor="start" fill="#111111" stroke="#111111" stroke-width="0.3">RH</text>
<text x="1453.3" y="359" font-size="32.4" text-anchor="start" fill="#111111" stroke="#111111" stroke-width="0.3">LM</text>
<text x="1453.3" y="400.8" font-size="32.4" text-anchor="start" fill="#111111" stroke="#111111" stroke-width="0.3">RM</text>
<text x="1622.9" y="359" font-size="32.4" text-anchor="start" fill="#111111" stroke="#111111" stroke-width="0.3">LF</text>
<text x="1624.9" y="400.8" font-size="32.4" text-anchor="start" fill="#111111" stroke="#111111" stroke-width="0.3">RF</text>
<rect x="1132.2" y="4.3" width="472.5" height="76.1" fill="#ffffff" stroke="#262626" stroke-width="2.9"/>
<line x1="1143.5" y1="25.4" x2="1235.2" y2="25.4" stroke="#0000ff" stroke-width="3.1" stroke-linecap="round"/>
<line x1="1143.5" y1="58.8" x2="1235.2" y2="58.8" stroke="#ff0000" stroke-width="3.1" stroke-linecap="round"/>
<text x="1244.1" y="34.7" font-size="23.6" text-anchor="start" fill="#141414" textLength="309.6" lengthAdjust="spacingAndGlyphs" stroke="#141414" stroke-width="0.4">Tip trajectories in tripod gait</text>
<text x="1244.1" y="69.4" font-size="23.6" text-anchor="start" fill="#141414" textLength="352.2" lengthAdjust="spacingAndGlyphs" stroke="#141414" stroke-width="0.4">Tip trajectories in pentapod gait</text>
</g>
<g id="plot2d-br">
<line x1="1085.39" y1="546.3" x2="1085.39" y2="988.45" stroke="#d6d6d6" stroke-width="2.0" />
<line x1="1184.47" y1="546.3" x2="1184.47" y2="988.45" stroke="#d6d6d6" stroke-width="2.0" />
<line x1="1283.56" y1="546.3" x2="1283.56" y2="988.45" stroke="#d6d6d6" stroke-width="2.0" />
<line x1="1382.64" y1="546.3" x2="1382.64" y2="988.45" stroke="#d6d6d6" stroke-width="2.0" />
<line x1="1481.73" y1="546.3" x2="1481.73" y2="988.45" stroke="#d6d6d6" stroke-width="2.0" />
<line x1="1580.81" y1="546.3" x2="1580.81" y2="988.45" stroke="#d6d6d6" stroke-width="2.0" />
<line x1="986.3" y1="656.84" x2="1679.9" y2="656.84" stroke="#d6d6d6" stroke-width="2.0" />
<line x1="986.3" y1="767.38" x2="1679.9" y2="767.38" stroke="#d6d6d6" stroke-width="2.0" />
<line x1="986.3" y1="877.91" x2="1679.9" y2="877.91" stroke="#d6d6d6" stroke-width="2.0" />
<path d="M1080.1,988.45 L1080.1,987.48 L1080.11,984.56 L1080.14,979.74 L1080.19,973.06 L1080.27,964.61 L1080.39,954.46 L1080.55,942.74 L1080.77,929.56 L1081.04,915.09 L1081.38,899.46 L1081.78,882.86 L1082.25,865.47 L1082.8,847.48 L1083.42,829.08 L1084.12,810.48 L1084.9,791.87 L1085.76,773.47 L1086.68,755.48 L1087.69,738.09 L1088.76,721.49 L1089.9,705.86 L1091.1,691.39 L1092.36,678.21 L1093.68,666.49 L1095.03,656.34 L1096.43,647.89 L1097.86,641.21 L1099.31,636.39 L1100.77,633.47 L1102.25,632.5 L1103.73,633.47 L1105.19,636.39 L1106.64,641.21 L1108.07,647.89 L1109.47,656.34 L1110.82,666.49 L1112.14,678.21 L1113.4,691.39 L1114.6,705.86 L1115.74,721.49 L1116.81,738.09 L1117.82,755.48 L1118.74,773.47 L1119.6,791.87 L1120.38,810.48 L1121.08,829.08 L1121.7,847.48 L1122.25,865.47 L1122.72,882.86 L1123.12,899.46 L1123.46,915.09 L1123.73,929.56 L1123.95,942.74 L1124.11,954.46 L1124.23,964.61 L1124.31,973.06 L1124.36,979.74 L1124.39,984.56 L1124.4,987.48 L1124.4,988.45" fill="none" stroke="#0000ff" stroke-width="4.0" stroke-linejoin="round"/>
<path d="M1080.1,988.45 L1080.1,987.52 L1080.11,984.74 L1080.14,980.14 L1080.19,973.77 L1080.27,965.7 L1080.39,956.03 L1080.55,944.84 L1080.77,932.28 L1081.04,918.47 L1081.38,903.56 L1081.78,887.73 L1082.25,871.14 L1082.8,853.97 L1083.42,836.42 L1084.12,818.68 L1084.9,800.93 L1085.76,783.38 L1086.68,766.21 L1087.69,749.62 L1088.76,733.79 L1089.9,718.88 L1091.1,705.07 L1092.36,692.51 L1093.68,681.32 L1095.03,671.65 L1096.43,663.58 L1097.86,657.21 L1099.31,652.61 L1100.77,649.83 L1102.25,648.9 L1103.73,649.83 L1105.19,652.61 L1106.64,657.21 L1108.07,663.58 L1109.47,671.65 L1110.82,681.32 L1112.14,692.51 L1113.4,705.07 L1114.6,718.88 L1115.74,733.79 L1116.81,749.62 L1117.82,766.21 L1118.74,783.38 L1119.6,800.93 L1120.38,818.67 L1121.08,836.42 L1121.7,853.97 L1122.25,871.14 L1122.72,887.73 L1123.12,903.56 L1123.46,918.47 L1123.73,932.28 L1123.95,944.84 L1124.11,956.03 L1124.23,965.7 L1124.31,973.77 L1124.36,980.14 L1124.39,984.74 L1124.4,987.52 L1124.4,988.45" fill="none" stroke="#0000ff" stroke-width="4.0" stroke-linejoin="round"/>
<path d="M1080.1,988.45 L1080.1,987.33 L1080.11,983.98 L1080.14,978.44 L1080.19,970.76 L1080.27,961.04 L1080.38,949.38 L1080.55,935.9 L1080.76,920.76 L1081.04,904.12 L1081.37,886.16 L1081.77,867.08 L1082.24,847.09 L1082.79,826.41 L1083.41,805.26 L1084.11,783.88 L1084.88,762.49 L1085.73,741.34 L1086.65,720.66 L1087.65,700.67 L1088.72,681.59 L1089.86,663.63 L1091.05,646.99 L1092.31,631.85 L1093.61,618.37 L1094.97,606.71 L1096.36,596.99 L1097.78,589.31 L1099.22,583.77 L1100.68,580.42 L1102.15,579.3 L1103.62,580.42 L1105.08,583.77 L1106.52,589.31 L1107.94,596.99 L1109.33,606.71 L1110.69,618.37 L1111.99,631.85 L1113.25,646.99 L1114.44,663.63 L1115.58,681.59 L1116.65,700.67 L1117.65,720.66 L1118.57,741.34 L1119.42,762.49 L1120.19,783.88 L1120.89,805.26 L1121.51,826.41 L1122.06,847.09 L1122.53,867.08 L1122.93,886.16 L1123.26,904.12 L1123.54,920.76 L1123.75,935.9 L1123.92,949.38 L1124.03,961.04 L1124.11,970.76 L1124.16,978.44 L1124.19,983.98 L1124.2,987.33 L1124.2,988.45" fill="none" stroke="#ff0000" stroke-width="3.4" stroke-linejoin="round"/>
<path d="M1080.1,988.45 L1080.1,987.4 L1080.11,984.28 L1080.14,979.1 L1080.19,971.94 L1080.27,962.86 L1080.39,951.97 L1080.55,939.38 L1080.77,925.25 L1081.04,909.71 L1081.38,892.94 L1081.78,875.12 L1082.26,856.45 L1082.81,837.14 L1083.43,817.39 L1084.13,797.43 L1084.91,777.46 L1085.77,757.71 L1086.7,738.4 L1087.7,719.73 L1088.78,701.91 L1089.92,685.14 L1091.13,669.6 L1092.39,655.47 L1093.71,642.88 L1095.07,631.99 L1096.47,622.91 L1097.9,615.75 L1099.35,610.57 L1100.82,607.45 L1102.3,606.4 L1103.78,607.45 L1105.25,610.57 L1106.7,615.75 L1108.13,622.91 L1109.53,631.99 L1110.89,642.88 L1112.21,655.47 L1113.47,669.6 L1114.68,685.14 L1115.82,701.91 L1116.9,719.73 L1117.9,738.4 L1118.83,757.71 L1119.69,777.46 L1120.47,797.42 L1121.17,817.39 L1121.79,837.14 L1122.34,856.45 L1122.82,875.12 L1123.22,892.94 L1123.56,909.71 L1123.83,925.25 L1124.05,939.38 L1124.21,951.97 L1124.33,962.86 L1124.41,971.94 L1124.46,979.1 L1124.49,984.28 L1124.5,987.4 L1124.5,988.45" fill="none" stroke="#ff0000" stroke-width="3.4" stroke-linejoin="round"/>
<path d="M1080.1,988.45 L1080.1,987.41 L1080.11,984.3 L1080.14,979.14 L1080.19,972.01 L1080.27,962.98 L1080.39,952.14 L1080.55,939.62 L1080.77,925.54 L1081.04,910.08 L1081.38,893.39 L1081.78,875.66 L1082.26,857.08 L1082.81,837.85 L1083.43,818.2 L1084.13,798.33 L1084.91,778.45 L1085.77,758.8 L1086.7,739.57 L1087.7,720.99 L1088.78,703.26 L1089.92,686.57 L1091.13,671.11 L1092.39,657.03 L1093.71,644.51 L1095.07,633.67 L1096.47,624.64 L1097.9,617.51 L1099.35,612.35 L1100.82,609.24 L1102.3,608.2 L1103.78,609.24 L1105.25,612.35 L1106.7,617.51 L1108.13,624.64 L1109.53,633.67 L1110.89,644.51 L1112.21,657.03 L1113.47,671.11 L1114.68,686.57 L1115.82,703.26 L1116.9,720.99 L1117.9,739.57 L1118.83,758.8 L1119.69,778.45 L1120.47,798.33 L1121.17,818.2 L1121.79,837.85 L1122.34,857.08 L1122.82,875.66 L1123.22,893.39 L1123.56,910.08 L1123.83,925.54 L1124.05,939.62 L1124.21,952.14 L1124.33,962.98 L1124.41,972.01 L1124.46,979.14 L1124.49,984.3 L1124.5,987.41 L1124.5,988.45" fill="none" stroke="#ff0000" stroke-width="3.4" stroke-linejoin="round"/>
<path d="M1423.6,988.45 L1423.6,987.5 L1423.61,984.68 L1423.64,980 L1423.69,973.53 L1423.77,965.32 L1423.89,955.48 L1424.06,944.11 L1424.28,931.33 L1424.56,917.29 L1424.9,902.14 L1425.31,886.04 L1425.79,869.17 L1426.34,851.72 L1426.98,833.87 L1427.69,815.83 L1428.48,797.78 L1429.34,779.93 L1430.29,762.48 L1431.31,745.61 L1432.4,729.51 L1433.56,714.36 L1434.78,700.32 L1436.06,687.54 L1437.39,676.17 L1438.77,666.33 L1440.19,658.12 L1441.64,651.65 L1443.11,646.97 L1444.6,644.15 L1446.1,643.2 L1447.6,644.15 L1449.09,646.97 L1450.56,651.65 L1452.01,658.12 L1453.43,666.33 L1454.81,676.17 L1456.14,687.54 L1457.42,700.32 L1458.64,714.36 L1459.8,729.51 L1460.89,745.61 L1461.91,762.48 L1462.86,779.93 L1463.72,797.78 L1464.51,815.83 L1465.22,833.87 L1465.86,851.72 L1466.41,869.17 L1466.89,886.04 L1467.3,902.14 L1467.64,917.29 L1467.92,931.33 L1468.14,944.11 L1468.31,955.48 L1468.43,965.32 L1468.51,973.53 L1468.56,980 L1468.59,984.68 L1468.6,987.5 L1468.6,988.45" fill="none" stroke="#0000ff" stroke-width="4.0" stroke-linejoin="round"/>
<path d="M1423.6,988.45 L1423.6,987.51 L1423.61,984.71 L1423.64,980.07 L1423.69,973.65 L1423.77,965.51 L1423.89,955.75 L1424.06,944.47 L1424.28,931.8 L1424.56,917.87 L1424.9,902.84 L1425.31,886.87 L1425.79,870.14 L1426.34,852.82 L1426.98,835.12 L1427.69,817.23 L1428.48,799.33 L1429.34,781.63 L1430.29,764.31 L1431.31,747.58 L1432.4,731.61 L1433.56,716.58 L1434.78,702.65 L1436.06,689.98 L1437.39,678.7 L1438.77,668.94 L1440.19,660.8 L1441.64,654.38 L1443.11,649.74 L1444.6,646.94 L1446.1,646 L1447.6,646.94 L1449.09,649.74 L1450.56,654.38 L1452.01,660.8 L1453.43,668.94 L1454.81,678.7 L1456.14,689.98 L1457.42,702.65 L1458.64,716.58 L1459.8,731.61 L1460.89,747.58 L1461.91,764.31 L1462.86,781.63 L1463.72,799.33 L1464.51,817.23 L1465.22,835.12 L1465.86,852.82 L1466.41,870.14 L1466.89,886.87 L1467.3,902.84 L1467.64,917.87 L1467.92,931.8 L1468.14,944.47 L1468.31,955.75 L1468.43,965.51 L1468.51,973.65 L1468.56,980.07 L1468.59,984.71 L1468.6,987.51 L1468.6,988.45" fill="none" stroke="#0000ff" stroke-width="4.0" stroke-linejoin="round"/>
<path d="M1423.6,988.45 L1423.6,987.52 L1423.61,984.74 L1423.64,980.14 L1423.69,973.78 L1423.77,965.71 L1423.89,956.04 L1424.06,944.86 L1424.28,932.29 L1424.56,918.49 L1424.9,903.59 L1425.31,887.76 L1425.79,871.17 L1426.34,854.01 L1426.98,836.47 L1427.69,818.73 L1428.48,800.98 L1429.34,783.44 L1430.29,766.28 L1431.31,749.69 L1432.4,733.86 L1433.56,718.96 L1434.78,705.16 L1436.06,692.59 L1437.39,681.41 L1438.77,671.74 L1440.19,663.67 L1441.64,657.31 L1443.11,652.71 L1444.6,649.93 L1446.1,649 L1447.6,649.93 L1449.09,652.71 L1450.56,657.31 L1452.01,663.67 L1453.43,671.74 L1454.81,681.41 L1456.14,692.59 L1457.42,705.16 L1458.64,718.96 L1459.8,733.86 L1460.89,749.69 L1461.91,766.28 L1462.86,783.44 L1463.72,800.98 L1464.51,818.73 L1465.22,836.47 L1465.86,854.01 L1466.41,871.17 L1466.89,887.76 L1467.3,903.59 L1467.64,918.49 L1467.92,932.29 L1468.14,944.86 L1468.31,956.04 L1468.43,965.71 L1468.51,973.78 L1468.56,980.14 L1468.59,984.74 L1468.6,987.52 L1468.6,988.45" fill="none" stroke="#0000ff" stroke-width="4.0" stroke-linejoin="round"/>
<path d="M1423.6,988.45 L1423.6,987.33 L1423.61,983.99 L1423.64,978.46 L1423.69,970.81 L1423.77,961.11 L1423.89,949.48 L1424.05,936.03 L1424.27,920.93 L1424.55,904.33 L1424.88,886.41 L1425.29,867.38 L1425.76,847.44 L1426.31,826.8 L1426.94,805.71 L1427.64,784.38 L1428.42,763.04 L1429.28,741.95 L1430.21,721.31 L1431.22,701.37 L1432.3,682.34 L1433.45,664.42 L1434.65,647.82 L1435.92,632.72 L1437.24,619.27 L1438.6,607.64 L1440,597.94 L1441.44,590.29 L1442.89,584.76 L1444.37,581.42 L1445.85,580.3 L1447.33,581.42 L1448.81,584.76 L1450.26,590.29 L1451.7,597.94 L1453.1,607.64 L1454.46,619.27 L1455.78,632.72 L1457.05,647.82 L1458.25,664.42 L1459.4,682.34 L1460.48,701.37 L1461.49,721.31 L1462.42,741.95 L1463.28,763.04 L1464.06,784.38 L1464.76,805.71 L1465.39,826.8 L1465.94,847.44 L1466.41,867.38 L1466.82,886.41 L1467.15,904.33 L1467.43,920.93 L1467.65,936.03 L1467.81,949.48 L1467.93,961.11 L1468.01,970.81 L1468.06,978.46 L1468.09,983.99 L1468.1,987.33 L1468.1,988.45" fill="none" stroke="#ff0000" stroke-width="3.4" stroke-linejoin="round"/>
<path d="M1423.6,988.45 L1423.6,987.43 L1423.61,984.38 L1423.64,979.34 L1423.69,972.35 L1423.77,963.51 L1423.89,952.89 L1424.06,940.63 L1424.27,926.85 L1424.55,911.71 L1424.89,895.36 L1425.3,878 L1425.78,859.81 L1426.33,840.98 L1426.96,821.74 L1427.67,802.28 L1428.46,782.81 L1429.32,763.57 L1430.26,744.74 L1431.27,726.55 L1432.36,709.19 L1433.51,692.84 L1434.73,677.7 L1436,663.92 L1437.33,651.66 L1438.7,641.04 L1440.11,632.2 L1441.56,625.21 L1443.02,620.17 L1444.51,617.12 L1446,616.1 L1447.49,617.12 L1448.98,620.17 L1450.44,625.21 L1451.89,632.2 L1453.3,641.04 L1454.67,651.66 L1456,663.92 L1457.27,677.7 L1458.49,692.84 L1459.64,709.19 L1460.73,726.55 L1461.74,744.74 L1462.68,763.57 L1463.54,782.81 L1464.33,802.27 L1465.04,821.74 L1465.67,840.98 L1466.22,859.81 L1466.7,878 L1467.11,895.36 L1467.45,911.71 L1467.73,926.85 L1467.94,940.63 L1468.11,952.89 L1468.23,963.51 L1468.31,972.35 L1468.36,979.34 L1468.39,984.38 L1468.4,987.43 L1468.4,988.45" fill="none" stroke="#ff0000" stroke-width="3.4" stroke-linejoin="round"/>
<path d="M1423.6,988.45 L1423.6,987.44 L1423.61,984.4 L1423.64,979.38 L1423.69,972.44 L1423.77,963.63 L1423.89,953.08 L1424.06,940.87 L1424.27,927.16 L1424.55,912.1 L1424.89,895.84 L1425.3,878.56 L1425.78,860.46 L1426.33,841.74 L1426.96,822.59 L1427.67,803.23 L1428.46,783.86 L1429.32,764.71 L1430.26,745.99 L1431.27,727.89 L1432.36,710.61 L1433.51,694.35 L1434.73,679.29 L1436,665.58 L1437.33,653.37 L1438.7,642.82 L1440.11,634.01 L1441.56,627.07 L1443.02,622.05 L1444.51,619.01 L1446,618 L1447.49,619.01 L1448.98,622.05 L1450.44,627.07 L1451.89,634.01 L1453.3,642.82 L1454.67,653.37 L1456,665.58 L1457.27,679.29 L1458.49,694.35 L1459.64,710.61 L1460.73,727.89 L1461.74,745.99 L1462.68,764.71 L1463.54,783.86 L1464.33,803.23 L1465.04,822.59 L1465.67,841.74 L1466.22,860.46 L1466.7,878.56 L1467.11,895.84 L1467.45,912.1 L1467.73,927.16 L1467.94,940.87 L1468.11,953.08 L1468.23,963.63 L1468.31,972.44 L1468.36,979.38 L1468.39,984.4 L1468.4,987.44 L1468.4,988.45" fill="none" stroke="#ff0000" stroke-width="3.4" stroke-linejoin="round"/>
<path d="M1627.7,988.45 L1627.7,987.51 L1627.71,984.7 L1627.74,980.06 L1627.79,973.63 L1627.87,965.48 L1627.99,955.7 L1628.16,944.41 L1628.38,931.71 L1628.66,917.77 L1629.01,902.71 L1629.42,886.72 L1629.9,869.96 L1630.46,852.63 L1631.1,834.9 L1631.82,816.98 L1632.61,799.05 L1633.48,781.32 L1634.43,763.99 L1635.46,747.23 L1636.56,731.24 L1637.72,716.18 L1638.95,702.24 L1640.24,689.54 L1641.58,678.25 L1642.97,668.47 L1644.4,660.32 L1645.86,653.89 L1647.34,649.25 L1648.84,646.44 L1650.35,645.5 L1651.86,646.44 L1653.36,649.25 L1654.84,653.89 L1656.3,660.32 L1657.73,668.47 L1659.12,678.25 L1660.46,689.54 L1661.75,702.24 L1662.98,716.18 L1664.14,731.24 L1665.24,747.23 L1666.27,763.99 L1667.22,781.32 L1668.09,799.05 L1668.88,816.98 L1669.6,834.9 L1670.24,852.63 L1670.8,869.96 L1671.28,886.72 L1671.69,902.71 L1672.04,917.77 L1672.32,931.71 L1672.54,944.41 L1672.71,955.7 L1672.83,965.48 L1672.91,973.63 L1672.96,980.06 L1672.99,984.7 L1673,987.51 L1673,988.45" fill="none" stroke="#0000ff" stroke-width="4.0" stroke-linejoin="round"/>
<path d="M1627.7,988.45 L1627.7,987.52 L1627.71,984.74 L1627.74,980.13 L1627.79,973.75 L1627.87,965.68 L1627.99,955.99 L1628.16,944.79 L1628.38,932.21 L1628.66,918.38 L1629.01,903.46 L1629.42,887.61 L1629.9,871 L1630.46,853.81 L1631.1,836.24 L1631.82,818.48 L1632.61,800.71 L1633.48,783.14 L1634.43,765.95 L1635.46,749.34 L1636.56,733.49 L1637.72,718.57 L1638.95,704.74 L1640.24,692.16 L1641.58,680.96 L1642.97,671.27 L1644.4,663.2 L1645.86,656.82 L1647.34,652.21 L1648.84,649.43 L1650.35,648.5 L1651.86,649.43 L1653.36,652.21 L1654.84,656.82 L1656.3,663.2 L1657.73,671.27 L1659.12,680.96 L1660.46,692.16 L1661.75,704.74 L1662.98,718.57 L1664.14,733.49 L1665.24,749.34 L1666.27,765.95 L1667.22,783.14 L1668.09,800.71 L1668.88,818.48 L1669.6,836.24 L1670.24,853.81 L1670.8,871 L1671.28,887.61 L1671.69,903.46 L1672.04,918.38 L1672.32,932.21 L1672.54,944.79 L1672.71,955.99 L1672.83,965.68 L1672.91,973.75 L1672.96,980.13 L1672.99,984.74 L1673,987.52 L1673,988.45" fill="none" stroke="#0000ff" stroke-width="4.0" stroke-linejoin="round"/>
<path d="M1627.7,988.45 L1627.7,987.53 L1627.71,984.77 L1627.74,980.2 L1627.79,973.88 L1627.87,965.88 L1627.99,956.27 L1628.16,945.18 L1628.38,932.71 L1628.66,919 L1629.01,904.21 L1629.42,888.5 L1629.9,872.04 L1630.46,855 L1631.1,837.59 L1631.82,819.98 L1632.61,802.36 L1633.48,784.95 L1634.43,767.91 L1635.46,751.45 L1636.56,735.74 L1637.72,720.95 L1638.95,707.24 L1640.24,694.77 L1641.58,683.68 L1642.97,674.07 L1644.4,666.07 L1645.86,659.75 L1647.34,655.18 L1648.84,652.42 L1650.35,651.5 L1651.86,652.42 L1653.36,655.18 L1654.84,659.75 L1656.3,666.07 L1657.73,674.07 L1659.12,683.68 L1660.46,694.77 L1661.75,707.24 L1662.98,720.95 L1664.14,735.74 L1665.24,751.45 L1666.27,767.91 L1667.22,784.95 L1668.09,802.36 L1668.88,819.98 L1669.6,837.59 L1670.24,855 L1670.8,872.04 L1671.28,888.5 L1671.69,904.21 L1672.04,919 L1672.32,932.71 L1672.54,945.18 L1672.71,956.27 L1672.83,965.88 L1672.91,973.88 L1672.96,980.2 L1672.99,984.77 L1673,987.53 L1673,988.45" fill="none" stroke="#0000ff" stroke-width="4.0" stroke-linejoin="round"/>
<path d="M1627.7,988.45 L1627.7,987.3 L1627.71,983.87 L1627.74,978.2 L1627.79,970.34 L1627.87,960.39 L1627.99,948.44 L1628.15,934.65 L1628.37,919.14 L1628.65,902.1 L1628.99,883.71 L1629.4,864.18 L1629.87,843.71 L1630.43,822.53 L1631.05,800.87 L1631.76,778.98 L1632.54,757.08 L1633.41,735.42 L1634.34,714.24 L1635.36,693.77 L1636.44,674.24 L1637.59,655.85 L1638.8,638.81 L1640.07,623.3 L1641.4,609.51 L1642.77,597.56 L1644.18,587.61 L1645.62,579.75 L1647.08,574.08 L1648.56,570.65 L1650.05,569.5 L1651.54,570.65 L1653.02,574.08 L1654.48,579.75 L1655.92,587.61 L1657.33,597.56 L1658.7,609.51 L1660.03,623.3 L1661.3,638.81 L1662.51,655.85 L1663.66,674.24 L1664.74,693.77 L1665.76,714.24 L1666.69,735.42 L1667.56,757.08 L1668.34,778.97 L1669.05,800.87 L1669.67,822.53 L1670.23,843.71 L1670.7,864.18 L1671.11,883.71 L1671.45,902.1 L1671.73,919.14 L1671.95,934.65 L1672.11,948.44 L1672.23,960.39 L1672.31,970.34 L1672.36,978.2 L1672.39,983.87 L1672.4,987.3 L1672.4,988.45" fill="none" stroke="#ff0000" stroke-width="3.4" stroke-linejoin="round"/>
<path d="M1627.7,988.45 L1627.7,987.31 L1627.71,983.91 L1627.74,978.27 L1627.79,970.47 L1627.87,960.59 L1627.99,948.73 L1628.16,935.03 L1628.38,919.64 L1628.66,902.72 L1629,884.46 L1629.41,865.07 L1629.89,844.74 L1630.44,823.72 L1631.08,802.21 L1631.79,780.48 L1632.58,758.74 L1633.44,737.23 L1634.39,716.21 L1635.41,695.88 L1636.5,676.49 L1637.66,658.23 L1638.88,641.31 L1640.16,625.92 L1641.49,612.22 L1642.87,600.36 L1644.29,590.48 L1645.74,582.68 L1647.21,577.04 L1648.7,573.64 L1650.2,572.5 L1651.7,573.64 L1653.19,577.04 L1654.66,582.68 L1656.11,590.48 L1657.53,600.36 L1658.91,612.22 L1660.24,625.92 L1661.52,641.31 L1662.74,658.23 L1663.9,676.49 L1664.99,695.88 L1666.01,716.21 L1666.96,737.23 L1667.82,758.74 L1668.61,780.47 L1669.32,802.21 L1669.96,823.72 L1670.51,844.74 L1670.99,865.07 L1671.4,884.46 L1671.74,902.72 L1672.02,919.64 L1672.24,935.03 L1672.41,948.73 L1672.53,960.59 L1672.61,970.47 L1672.66,978.27 L1672.69,983.91 L1672.7,987.31 L1672.7,988.45" fill="none" stroke="#ff0000" stroke-width="3.4" stroke-linejoin="round"/>
<path d="M1627.7,988.45 L1627.7,987.32 L1627.71,983.93 L1627.74,978.33 L1627.79,970.58 L1627.87,960.75 L1627.99,948.97 L1628.16,935.35 L1628.38,920.05 L1628.66,903.23 L1629,885.09 L1629.41,865.81 L1629.89,845.61 L1630.44,824.71 L1631.08,803.33 L1631.79,781.73 L1632.58,760.12 L1633.44,738.74 L1634.39,717.84 L1635.41,697.64 L1636.5,678.36 L1637.66,660.22 L1638.88,643.4 L1640.16,628.1 L1641.49,614.48 L1642.87,602.7 L1644.29,592.87 L1645.74,585.12 L1647.21,579.52 L1648.7,576.13 L1650.2,575 L1651.7,576.13 L1653.19,579.52 L1654.66,585.12 L1656.11,592.87 L1657.53,602.7 L1658.91,614.48 L1660.24,628.1 L1661.52,643.4 L1662.74,660.22 L1663.9,678.36 L1664.99,697.64 L1666.01,717.84 L1666.96,738.74 L1667.82,760.12 L1668.61,781.72 L1669.32,803.33 L1669.96,824.71 L1670.51,845.61 L1670.99,865.81 L1671.4,885.09 L1671.74,903.23 L1672.02,920.05 L1672.24,935.35 L1672.41,948.97 L1672.53,960.75 L1672.61,970.58 L1672.66,978.33 L1672.69,983.93 L1672.7,987.32 L1672.7,988.45" fill="none" stroke="#ff0000" stroke-width="3.4" stroke-linejoin="round"/>
<rect x="986.3" y="546.3" width="693.6" height="442.15" fill="none" stroke="#262626" stroke-width="3.0"/>
<line x1="1080.1" y1="988.45" x2="1124.5" y2="988.45" stroke="#ff0000" stroke-width="3.6" stroke-linecap="square"/>
<line x1="1423.6" y1="988.45" x2="1468.4" y2="988.45" stroke="#ff0000" stroke-width="3.6" stroke-linecap="square"/>
<line x1="1627.7" y1="988.45" x2="1672.7" y2="988.45" stroke="#ff0000" stroke-width="3.6" stroke-linecap="square"/>
<line x1="1085.39" y1="988.45" x2="1085.39" y2="979.95" stroke="#262626" stroke-width="2.5" />
<line x1="1085.39" y1="546.3" x2="1085.39" y2="554.8" stroke="#262626" stroke-width="2.5" />
<line x1="1184.47" y1="988.45" x2="1184.47" y2="979.95" stroke="#262626" stroke-width="2.5" />
<line x1="1184.47" y1="546.3" x2="1184.47" y2="554.8" stroke="#262626" stroke-width="2.5" />
<line x1="1283.56" y1="988.45" x2="1283.56" y2="979.95" stroke="#262626" stroke-width="2.5" />
<line x1="1283.56" y1="546.3" x2="1283.56" y2="554.8" stroke="#262626" stroke-width="2.5" />
<line x1="1382.64" y1="988.45" x2="1382.64" y2="979.95" stroke="#262626" stroke-width="2.5" />
<line x1="1382.64" y1="546.3" x2="1382.64" y2="554.8" stroke="#262626" stroke-width="2.5" />
<line x1="1481.73" y1="988.45" x2="1481.73" y2="979.95" stroke="#262626" stroke-width="2.5" />
<line x1="1481.73" y1="546.3" x2="1481.73" y2="554.8" stroke="#262626" stroke-width="2.5" />
<line x1="1580.81" y1="988.45" x2="1580.81" y2="979.95" stroke="#262626" stroke-width="2.5" />
<line x1="1580.81" y1="546.3" x2="1580.81" y2="554.8" stroke="#262626" stroke-width="2.5" />
<line x1="986.3" y1="656.84" x2="994.8" y2="656.84" stroke="#262626" stroke-width="2.5" />
<line x1="1679.9" y1="656.84" x2="1671.4" y2="656.84" stroke="#262626" stroke-width="2.5" />
<line x1="986.3" y1="767.38" x2="994.8" y2="767.38" stroke="#262626" stroke-width="2.5" />
<line x1="1679.9" y1="767.38" x2="1671.4" y2="767.38" stroke="#262626" stroke-width="2.5" />
<line x1="986.3" y1="877.91" x2="994.8" y2="877.91" stroke="#262626" stroke-width="2.5" />
<line x1="1679.9" y1="877.91" x2="1671.4" y2="877.91" stroke="#262626" stroke-width="2.5" />
<text x="980.5" y="557.05" font-size="25.3" text-anchor="end" fill="#262626" stroke="#262626" stroke-width="0.55">-130</text>
<text x="980.5" y="667.59" font-size="25.3" text-anchor="end" fill="#262626" stroke="#262626" stroke-width="0.55">-135</text>
<text x="980.5" y="778.12" font-size="25.3" text-anchor="end" fill="#262626" stroke="#262626" stroke-width="0.55">-140</text>
<text x="980.5" y="888.66" font-size="25.3" text-anchor="end" fill="#262626" stroke="#262626" stroke-width="0.55">-145</text>
<text x="980.5" y="999.2" font-size="25.3" text-anchor="end" fill="#262626" stroke="#262626" stroke-width="0.55">-150</text>
<text x="986" y="1020.05" font-size="25.3" text-anchor="middle" fill="#262626" stroke="#262626" stroke-width="0.55">-400</text>
<text x="1085.09" y="1020.05" font-size="25.3" text-anchor="middle" fill="#262626" stroke="#262626" stroke-width="0.55">-300</text>
<text x="1184.17" y="1020.05" font-size="25.3" text-anchor="middle" fill="#262626" stroke="#262626" stroke-width="0.55">-200</text>
<text x="1283.26" y="1020.05" font-size="25.3" text-anchor="middle" fill="#262626" stroke="#262626" stroke-width="0.55">-100</text>
<text x="1382.34" y="1020.05" font-size="25.3" text-anchor="middle" fill="#262626" stroke="#262626" stroke-width="0.55">0</text>
<text x="1481.43" y="1020.05" font-size="25.3" text-anchor="middle" fill="#262626" stroke="#262626" stroke-width="0.55">100</text>
<text x="1580.51" y="1020.05" font-size="25.3" text-anchor="middle" fill="#262626" stroke="#262626" stroke-width="0.55">200</text>
<text x="1679.6" y="1020.05" font-size="25.3" text-anchor="middle" fill="#262626" stroke="#262626" stroke-width="0.55">300</text>
<text x="1333.2" y="1051.3" font-size="24.4" text-anchor="middle" fill="#262626" textLength="70.83" lengthAdjust="spacingAndGlyphs" stroke="#262626" stroke-width="0.55">y(mm)</text>
<text transform="translate(921.6,768) rotate(-90)" font-size="24.4" text-anchor="middle" fill="#262626" stroke="#262626" stroke-width="0.55" textLength="70.83" lengthAdjust="spacingAndGlyphs">z(mm)</text>
<text x="1152.4" y="913.6" font-size="24.3" text-anchor="start" fill="#111111" stroke="#111111" stroke-width="0.3">LF</text>
<text x="1150.4" y="959.6" font-size="24.3" text-anchor="start" fill="#111111" stroke="#111111" stroke-width="0.3">RF</text>
<text x="1368.4" y="918.1" font-size="24.3" text-anchor="start" fill="#111111" stroke="#111111" stroke-width="0.3">LM</text>
<text x="1369.9" y="961.9" font-size="24.3" text-anchor="start" fill="#111111" stroke="#111111" stroke-width="0.3">RM</text>
<text x="1565.1" y="918.1" font-size="24.3" text-anchor="start" fill="#111111" stroke="#111111" stroke-width="0.3">LH</text>
<text x="1565.1" y="961.9" font-size="24.3" text-anchor="start" fill="#111111" stroke="#111111" stroke-width="0.3">RH</text>
<rect x="1120.9" y="505.5" width="488.8" height="74.9" fill="#ffffff" stroke="#262626" stroke-width="2.9"/>
<line x1="1132.1" y1="526.7" x2="1224.1" y2="526.7" stroke="#0000ff" stroke-width="3.1" stroke-linecap="round"/>
<line x1="1132.1" y1="559.3" x2="1224.1" y2="559.3" stroke="#ff0000" stroke-width="3.1" stroke-linecap="round"/>
<text x="1233.3" y="536.8" font-size="23.6" text-anchor="start" fill="#141414" textLength="309.6" lengthAdjust="spacingAndGlyphs" stroke="#141414" stroke-width="0.4">Tip trajectories in tripod gait</text>
<text x="1233.3" y="570" font-size="23.6" text-anchor="start" fill="#141414" textLength="368.6" lengthAdjust="spacingAndGlyphs" stroke="#141414" stroke-width="0.4">Tip trajectories in quadruped gait</text>
</g>
</g>
</svg>
</body>
</html>
